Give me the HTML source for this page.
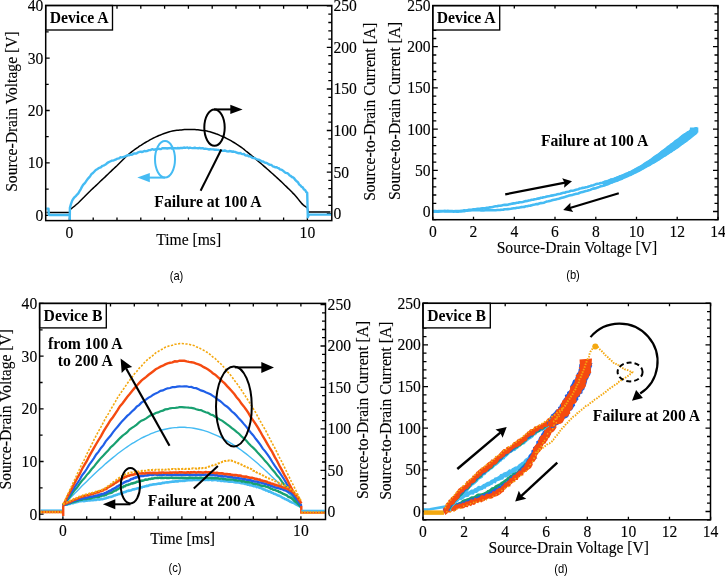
<!DOCTYPE html><html><head><meta charset="utf-8"><style>html,body{margin:0;padding:0;background:#fff;width:725px;height:577px;overflow:hidden}</style></head><body><svg width="725" height="577" viewBox="0 0 725 577" style="position:absolute;left:0;top:0;filter:blur(0.35px)">
<rect width="725" height="577" fill="#fff"/>
<path d="M69.4,220.6 L69.4,217.4 M69.4,5.5 L69.4,8.7 M93.2,220.6 L93.2,217.4 M93.2,5.5 L93.2,8.7 M117.0,220.6 L117.0,217.4 M117.0,5.5 L117.0,8.7 M140.8,220.6 L140.8,217.4 M140.8,5.5 L140.8,8.7 M164.6,220.6 L164.6,217.4 M164.6,5.5 L164.6,8.7 M188.4,220.6 L188.4,217.4 M188.4,5.5 L188.4,8.7 M212.2,220.6 L212.2,217.4 M212.2,5.5 L212.2,8.7 M236.0,220.6 L236.0,217.4 M236.0,5.5 L236.0,8.7 M259.8,220.6 L259.8,217.4 M259.8,5.5 L259.8,8.7 M283.6,220.6 L283.6,217.4 M283.6,5.5 L283.6,8.7 M307.4,220.6 L307.4,217.4 M307.4,5.5 L307.4,8.7 M45.7,215.3 L49.7,215.3 M45.7,189.1 L48.7,189.1 M45.7,162.9 L49.7,162.9 M45.7,136.7 L48.7,136.7 M45.7,110.5 L49.7,110.5 M45.7,84.3 L48.7,84.3 M45.7,58.1 L49.7,58.1 M45.7,31.9 L48.7,31.9 M45.7,5.7 L49.7,5.7 M331.8,213.6 L326.8,213.6 M331.8,205.3 L328.3,205.3 M331.8,197.0 L328.3,197.0 M331.8,188.7 L328.3,188.7 M331.8,180.4 L328.3,180.4 M331.8,172.1 L326.8,172.1 M331.8,163.7 L328.3,163.7 M331.8,155.4 L328.3,155.4 M331.8,147.1 L328.3,147.1 M331.8,138.8 L328.3,138.8 M331.8,130.5 L326.8,130.5 M331.8,122.2 L328.3,122.2 M331.8,113.9 L328.3,113.9 M331.8,105.6 L328.3,105.6 M331.8,97.3 L328.3,97.3 M331.8,89.0 L326.8,89.0 M331.8,80.6 L328.3,80.6 M331.8,72.3 L328.3,72.3 M331.8,64.0 L328.3,64.0 M331.8,55.7 L328.3,55.7 M331.8,47.4 L326.8,47.4 M331.8,39.1 L328.3,39.1 M331.8,30.8 L328.3,30.8 M331.8,22.5 L328.3,22.5 M331.8,14.2 L328.3,14.2 M331.8,5.8 L326.8,5.8" stroke="#000" stroke-width="1.3" fill="none"/>
<path d="M46.5,212.6 L69.8,212.6 L70.4,209.3 L71.9,208.2 L73.4,207.0 L74.9,205.8 L76.4,204.5 L77.9,203.2 L79.4,201.8 L80.9,200.3 L82.4,198.8 L83.9,197.3 L85.4,195.7 L86.9,194.2 L88.4,192.7 L89.9,191.3 L91.4,189.8 L92.9,188.4 L94.4,187.0 L95.9,185.6 L97.4,184.2 L98.9,182.8 L100.4,181.3 L101.9,179.9 L103.4,178.5 L104.9,177.1 L106.4,175.6 L107.9,174.2 L109.4,172.8 L110.9,171.4 L112.4,169.9 L113.9,168.5 L115.4,167.1 L116.9,165.7 L118.4,164.2 L119.9,162.7 L121.4,161.2 L122.9,159.7 L124.4,158.2 L125.9,156.8 L127.4,155.4 L128.9,154.1 L130.4,152.9 L131.9,151.7 L133.4,150.5 L134.9,149.4 L136.4,148.3 L137.9,147.3 L139.4,146.2 L140.9,145.3 L142.4,144.3 L143.9,143.4 L145.4,142.5 L146.9,141.6 L148.4,140.8 L149.9,139.9 L151.4,139.1 L152.9,138.3 L154.4,137.6 L155.9,136.9 L157.4,136.2 L158.9,135.5 L160.4,135.0 L161.9,134.4 L163.4,133.8 L164.9,133.3 L166.4,132.8 L167.9,132.3 L169.4,131.8 L170.9,131.4 L172.4,131.0 L173.9,130.7 L175.4,130.5 L176.9,130.3 L178.4,130.2 L179.9,130.0 L181.4,129.9 L182.9,129.7 L184.4,129.6 L185.9,129.5 L187.4,129.5 L188.9,129.4 L190.4,129.4 L191.9,129.4 L193.4,129.5 L194.9,129.6 L196.4,129.7 L197.9,129.8 L199.4,130.0 L200.9,130.2 L202.4,130.4 L203.9,130.6 L205.4,130.8 L206.9,131.1 L208.4,131.4 L209.9,131.8 L211.4,132.2 L212.9,132.7 L214.4,133.2 L215.9,133.8 L217.4,134.3 L218.9,134.9 L220.4,135.6 L221.9,136.2 L223.4,136.8 L224.9,137.5 L226.4,138.3 L227.9,139.1 L229.4,139.9 L230.9,140.7 L232.4,141.6 L233.9,142.5 L235.4,143.4 L236.9,144.4 L238.4,145.3 L239.9,146.3 L241.4,147.4 L242.9,148.5 L244.4,149.7 L245.9,151.0 L247.4,152.2 L248.9,153.4 L250.4,154.6 L251.9,155.9 L253.4,157.1 L254.9,158.4 L256.4,159.6 L257.9,160.9 L259.4,162.2 L260.9,163.5 L262.4,164.8 L263.9,166.1 L265.4,167.4 L266.9,168.7 L268.4,170.0 L269.9,171.4 L271.4,172.7 L272.9,174.0 L274.4,175.4 L275.9,176.7 L277.4,178.1 L278.9,179.5 L280.4,180.9 L281.9,182.3 L283.4,183.7 L284.9,185.2 L286.4,186.6 L287.9,188.1 L289.4,189.5 L290.9,191.0 L292.4,192.6 L293.9,194.1 L295.4,195.8 L296.9,197.5 L298.4,199.4 L299.9,201.3 L301.4,203.1 L302.9,204.6 L304.4,205.8 L305.9,206.8 L307.2,207.6 L308.3,212 L330.5,212" stroke="#000" stroke-width="1.5" fill="none" stroke-linejoin="round"/>
<path d="M46.3,208.6 L48.5,208.6 L48.8,215 L69.6,215 L69.8,219.8 L69.9,207.8 L71.1,203.7 L72.3,200.3 L73.5,198.5 L74.7,197.0 L75.9,196.1 L77.1,194.6 L78.3,193.4 L79.5,191.2 L80.7,189.3 L81.9,186.9 L83.1,184.9 L84.3,183.7 L85.5,182.2 L86.7,180.4 L87.9,178.8 L89.1,177.4 L90.3,175.9 L91.5,174.1 L92.7,173.3 L93.9,172.0 L95.1,170.7 L96.3,169.7 L97.5,169.0 L98.7,168.1 L99.9,167.7 L101.1,167.1 L102.3,165.9 L103.5,165.6 L104.7,165.0 L105.9,164.3 L107.1,163.1 L108.3,162.4 L109.5,161.8 L110.7,161.2 L111.9,160.6 L113.1,160.5 L114.3,160.2 L115.5,159.7 L116.7,158.9 L117.9,158.6 L119.1,158.4 L120.3,157.3 L121.5,157.4 L122.7,157.3 L123.9,156.8 L125.1,156.4 L126.3,155.8 L127.5,155.2 L128.7,155.4 L129.9,154.7 L131.1,154.8 L132.3,154.6 L133.5,153.7 L134.7,153.4 L135.9,153.6 L137.1,153.1 L138.3,152.3 L139.5,151.9 L140.7,151.6 L141.9,152.0 L143.1,151.7 L144.3,150.9 L145.5,151.2 L146.7,151.1 L147.9,150.6 L149.1,150.1 L150.3,150.1 L151.5,149.5 L152.7,149.2 L153.9,149.8 L155.1,149.4 L156.3,149.1 L157.5,149.3 L158.7,148.7 L159.9,149.1 L161.1,149.0 L162.3,148.3 L163.5,148.3 L164.7,148.3 L165.9,148.2 L167.1,148.5 L168.3,148.1 L169.5,148.2 L170.7,147.9 L171.9,148.6 L173.1,148.1 L174.3,148.1 L175.5,148.2 L176.7,148.4 L177.9,148.0 L179.1,148.4 L180.3,148.0 L181.5,148.0 L182.7,148.0 L183.9,147.5 L185.1,147.9 L186.3,147.6 L187.5,147.5 L188.7,148.2 L189.9,147.6 L191.1,147.9 L192.3,148.1 L193.5,148.0 L194.7,147.8 L195.9,148.0 L197.1,148.1 L198.3,148.4 L199.5,147.9 L200.7,148.4 L201.9,148.2 L203.1,148.3 L204.3,148.9 L205.5,148.7 L206.7,148.9 L207.9,149.2 L209.1,149.5 L210.3,149.1 L211.5,149.4 L212.7,149.4 L213.9,149.5 L215.1,149.8 L216.3,149.7 L217.5,149.9 L218.7,150.0 L219.9,150.5 L221.1,150.5 L222.3,150.7 L223.5,150.9 L224.7,150.5 L225.9,150.9 L227.1,151.4 L228.3,151.5 L229.5,151.0 L230.7,151.2 L231.9,151.7 L233.1,151.5 L234.3,151.9 L235.5,151.9 L236.7,152.7 L237.9,153.0 L239.1,153.4 L240.3,153.0 L241.5,153.8 L242.7,154.1 L243.9,154.0 L245.1,155.1 L246.3,155.6 L247.5,155.3 L248.7,156.4 L249.9,156.3 L251.1,156.9 L252.3,157.8 L253.5,158.1 L254.7,158.0 L255.9,158.7 L257.1,159.3 L258.3,159.6 L259.5,160.0 L260.7,160.6 L261.9,161.5 L263.1,161.4 L264.3,162.4 L265.5,162.8 L266.7,162.9 L267.9,163.7 L269.1,164.5 L270.3,164.9 L271.5,165.0 L272.7,166.3 L273.9,166.6 L275.1,167.3 L276.3,167.1 L277.5,167.8 L278.7,168.2 L279.9,169.4 L281.1,169.6 L282.3,170.1 L283.5,171.1 L284.7,172.2 L285.9,172.9 L287.1,173.1 L288.3,173.8 L289.5,175.4 L290.7,175.9 L291.9,177.0 L293.1,177.4 L294.3,178.5 L295.5,180.2 L296.7,181.3 L297.9,182.2 L299.1,184.3 L300.3,185.3 L301.5,186.7 L302.7,187.4 L303.9,189.4 L305.1,190.0 L306.3,192.1 L307.2,192.8 L307.8,217.4 L309,214.6 L331,214.6" stroke="#45bbf3" stroke-width="2.4" fill="none" stroke-linejoin="round"/>
<ellipse cx="165" cy="159.3" rx="10" ry="18.2" fill="none" stroke="#45bbf3" stroke-width="2"/>
<path d="M165,177.6 L148,177.6" stroke="#45bbf3" stroke-width="2" fill="none"/>
<path d="M137.3,177.6 L149.8,172.9 L149.8,182.3 Z" fill="#45bbf3"/>
<ellipse cx="214.5" cy="127.6" rx="10.2" ry="18.2" fill="none" stroke="#000" stroke-width="2"/>
<path d="M214,109.4 L232,109.4" stroke="#000" stroke-width="2" fill="none"/>
<path d="M242.6,109.4 L230.3,104.8 L230.3,114 Z" fill="#000"/>
<path d="M200.6,190.7 L221.3,149.5" stroke="#000" stroke-width="2" fill="none"/>
<text transform="translate(208.0,206.5) scale(1,1.0)" font-family="Liberation Serif" font-size="15.7" font-weight="bold" text-anchor="middle" >Failure at 100 A</text>
<rect x="45.7" y="5.5" width="66.8" height="24.5" fill="#fff" stroke="#000" stroke-width="1.35"/>
<text transform="translate(79.1,23.0) scale(1,1.0)" font-family="Liberation Serif" font-size="15.7" font-weight="bold" text-anchor="middle" >Device A</text>
<rect x="45.7" y="5.5" width="286.1" height="215.1" fill="none" stroke="#000" stroke-width="1.5"/>
<text transform="translate(43.3,220.7) scale(1,1.07)" font-family="Liberation Serif" font-size="15.6" stroke="#000" stroke-width="0.12" text-anchor="end" >0</text>
<text transform="translate(43.3,168.3) scale(1,1.07)" font-family="Liberation Serif" font-size="15.6" stroke="#000" stroke-width="0.12" text-anchor="end" >10</text>
<text transform="translate(43.3,115.9) scale(1,1.07)" font-family="Liberation Serif" font-size="15.6" stroke="#000" stroke-width="0.12" text-anchor="end" >20</text>
<text transform="translate(43.3,63.5) scale(1,1.07)" font-family="Liberation Serif" font-size="15.6" stroke="#000" stroke-width="0.12" text-anchor="end" >30</text>
<text transform="translate(43.3,11.1) scale(1,1.07)" font-family="Liberation Serif" font-size="15.6" stroke="#000" stroke-width="0.12" text-anchor="end" >40</text>
<text transform="translate(333.5,219.0) scale(1,1.07)" font-family="Liberation Serif" font-size="15.6" stroke="#000" stroke-width="0.12" text-anchor="start" >0</text>
<text transform="translate(333.5,177.5) scale(1,1.07)" font-family="Liberation Serif" font-size="15.6" stroke="#000" stroke-width="0.12" text-anchor="start" >50</text>
<text transform="translate(333.5,135.9) scale(1,1.07)" font-family="Liberation Serif" font-size="15.6" stroke="#000" stroke-width="0.12" text-anchor="start" >100</text>
<text transform="translate(333.5,94.4) scale(1,1.07)" font-family="Liberation Serif" font-size="15.6" stroke="#000" stroke-width="0.12" text-anchor="start" >150</text>
<text transform="translate(333.5,52.8) scale(1,1.07)" font-family="Liberation Serif" font-size="15.6" stroke="#000" stroke-width="0.12" text-anchor="start" >200</text>
<text transform="translate(333.5,11.2) scale(1,1.07)" font-family="Liberation Serif" font-size="15.6" stroke="#000" stroke-width="0.12" text-anchor="start" >250</text>
<text transform="translate(69.4,238.0) scale(1,1.07)" font-family="Liberation Serif" font-size="15.6" stroke="#000" stroke-width="0.12" text-anchor="middle" >0</text>
<text transform="translate(307.4,238.0) scale(1,1.07)" font-family="Liberation Serif" font-size="15.6" stroke="#000" stroke-width="0.12" text-anchor="middle" >10</text>
<text transform="translate(188.7,244.8) scale(1,1.07)" font-family="Liberation Serif" font-size="15.6" stroke="#000" stroke-width="0.12" text-anchor="middle" >Time [ms]</text>
<text transform="translate(17.0,111.6) rotate(-90) scale(1,1.07)" font-family="Liberation Serif" font-size="15.6" stroke="#000" stroke-width="0.12" text-anchor="middle">Source-Drain Voltage [V]</text>
<text transform="translate(375.4,111.7) rotate(-90) scale(1,1.07)" font-family="Liberation Serif" font-size="15.6" stroke="#000" stroke-width="0.12" text-anchor="middle">Source-to-Drain Current [A]</text>
<text transform="translate(176.5,280.0) scale(1,1.07)" font-family="Liberation Sans" font-size="11.2" text-anchor="middle" >(a)</text>
<path d="M432.8,219.7 L432.8,216.7 M432.8,5.6 L432.8,8.6 M473.5,219.7 L473.5,216.7 M473.5,5.6 L473.5,8.6 M514.3,219.7 L514.3,216.7 M514.3,5.6 L514.3,8.6 M555.0,219.7 L555.0,216.7 M555.0,5.6 L555.0,8.6 M595.8,219.7 L595.8,216.7 M595.8,5.6 L595.8,8.6 M636.5,219.7 L636.5,216.7 M636.5,5.6 L636.5,8.6 M677.2,219.7 L677.2,216.7 M677.2,5.6 L677.2,8.6 M718.0,219.7 L718.0,216.7 M718.0,5.6 L718.0,8.6 M432.8,219.7 L436.3,219.7 M718.0,219.7 L714.5,219.7 M432.8,211.5 L437.8,211.5 M718.0,211.5 L713.0,211.5 M432.8,203.3 L436.3,203.3 M718.0,203.3 L714.5,203.3 M432.8,195.0 L436.3,195.0 M718.0,195.0 L714.5,195.0 M432.8,186.8 L436.3,186.8 M718.0,186.8 L714.5,186.8 M432.8,178.5 L436.3,178.5 M718.0,178.5 L714.5,178.5 M432.8,170.3 L437.8,170.3 M718.0,170.3 L713.0,170.3 M432.8,162.1 L436.3,162.1 M718.0,162.1 L714.5,162.1 M432.8,153.8 L436.3,153.8 M718.0,153.8 L714.5,153.8 M432.8,145.6 L436.3,145.6 M718.0,145.6 L714.5,145.6 M432.8,137.4 L436.3,137.4 M718.0,137.4 L714.5,137.4 M432.8,129.1 L437.8,129.1 M718.0,129.1 L713.0,129.1 M432.8,120.9 L436.3,120.9 M718.0,120.9 L714.5,120.9 M432.8,112.6 L436.3,112.6 M718.0,112.6 L714.5,112.6 M432.8,104.4 L436.3,104.4 M718.0,104.4 L714.5,104.4 M432.8,96.2 L436.3,96.2 M718.0,96.2 L714.5,96.2 M432.8,87.9 L437.8,87.9 M718.0,87.9 L713.0,87.9 M432.8,79.7 L436.3,79.7 M718.0,79.7 L714.5,79.7 M432.8,71.5 L436.3,71.5 M718.0,71.5 L714.5,71.5 M432.8,63.2 L436.3,63.2 M718.0,63.2 L714.5,63.2 M432.8,55.0 L436.3,55.0 M718.0,55.0 L714.5,55.0 M432.8,46.7 L437.8,46.7 M718.0,46.7 L713.0,46.7 M432.8,38.5 L436.3,38.5 M718.0,38.5 L714.5,38.5 M432.8,30.3 L436.3,30.3 M718.0,30.3 L714.5,30.3 M432.8,22.0 L436.3,22.0 M718.0,22.0 L714.5,22.0 M432.8,13.8 L436.3,13.8 M718.0,13.8 L714.5,13.8 M432.8,5.6 L437.8,5.6 M718.0,5.6 L713.0,5.6" stroke="#000" stroke-width="1.3" fill="none"/>
<path d="M432.8,211.1 L434.3,211.0 L435.8,211.1 L437.3,211.3 L438.8,211.0 L440.3,211.0 L441.8,211.1 L443.3,211.0 L444.8,210.9 L446.3,211.0 L447.8,210.9 L449.3,211.0 L450.8,211.0 L452.3,211.0 L453.8,211.2 L455.3,211.0 L456.8,211.1 L458.3,211.0 L459.8,211.0 L461.3,210.7 L462.8,210.6 L464.3,210.4 L465.8,210.5 L467.3,210.2 L468.8,209.9 L470.3,209.8 L471.8,209.8 L473.3,209.3 L474.8,209.4 L476.3,209.1 L477.8,208.9 L479.3,208.9 L480.8,208.5 L482.3,208.4 L483.8,208.3 L485.3,208.2 L486.8,207.7 L488.3,207.7 L489.8,207.4 L491.3,207.2 L492.8,206.9 L494.3,206.6 L495.8,206.3 L497.3,206.1 L498.8,205.8 L500.3,205.8 L501.8,205.4 L503.3,205.1 L504.8,204.8 L506.3,204.9 L507.8,204.7 L509.3,204.3 L510.8,203.9 L512.3,203.6 L513.8,203.4 L515.3,203.2 L516.8,202.8 L518.3,202.6 L519.8,202.2 L521.3,202.2 L522.8,201.9 L524.3,201.5 L525.8,201.1 L527.3,201.0 L528.8,200.5 L530.3,200.2 L531.8,199.7 L533.3,199.6 L534.8,199.3 L536.3,199.0 L537.8,198.6 L539.3,198.4 L540.8,197.8 L542.3,197.6 L543.8,197.2 L545.3,197.0 L546.8,196.5 L548.3,196.2 L549.8,196.0 L551.3,195.6 L552.8,195.4 L554.3,195.0 L555.8,194.7 L557.3,194.3 L558.8,194.0 L560.3,193.7 L561.8,193.2 L563.3,192.8 L564.8,192.7 L566.3,192.0 L567.8,191.8 L569.3,191.4 L570.8,190.8 L572.3,190.8 L573.8,190.4 L575.3,189.9 L576.8,189.6 L578.3,189.2 L579.8,188.6 L581.3,188.3 L582.8,187.9 L584.3,187.7 L585.8,187.3 L587.3,186.9 L588.8,186.4 L590.3,186.1 L591.8,185.6 L593.3,185.2 L594.8,184.6 L596.3,184.1 L597.8,183.7 L599.3,183.4 L600.8,182.9 L602.3,182.7 L603.8,182.2 L605.3,181.7 L606.8,181.3 L608.3,180.8 L609.8,180.2 L611.3,179.5 L612.8,179.3 L614.3,178.8 L615.8,178.1 L617.3,177.6 L618.8,177.1 L620.3,176.3 L621.8,175.9 L623.3,175.1 L624.8,174.4 L626.3,173.8 L627.8,173.3 L629.3,172.4 L630.8,171.9 L632.3,171.2 L633.8,170.3 L635.3,169.5 L636.8,168.7 L638.3,167.9 L639.8,167.1 L641.3,166.2 L642.8,165.3 L644.3,164.1 L645.8,163.2 L647.3,162.2 L648.8,161.4 L650.3,160.2 L651.8,159.3 L653.3,158.0 L654.8,156.9 L656.3,155.9 L657.8,155.0 L659.3,153.9 L660.8,152.7 L662.3,151.5 L663.8,150.4 L665.3,149.2 L666.8,148.1 L668.3,146.8 L669.8,145.9 L671.3,144.5 L672.8,143.7 L674.3,142.5 L675.8,141.0 L677.3,140.0 L678.8,139.0 L680.3,137.9 L681.8,136.6 L683.3,135.4 L684.8,134.4 L686.3,133.6 L687.8,132.4 L689.3,131.6 L690.8,130.6 L692.3,130.0 L693.8,129.5 L695.3,128.5 L696.8,128.3" stroke="#45bbf3" stroke-width="2.6" fill="none"/>
<path d="M432.8,211.5 L434.3,211.7 L435.8,211.6 L437.3,211.4 L438.8,211.7 L440.3,211.5 L441.8,211.3 L443.3,211.3 L444.8,211.5 L446.3,211.5 L447.8,211.4 L449.3,211.4 L450.8,211.4 L452.3,211.4 L453.8,211.6 L455.3,211.3 L456.8,211.6 L458.3,211.6 L459.8,211.3 L461.3,211.5 L462.8,211.2 L464.3,211.1 L465.8,210.7 L467.3,210.6 L468.8,210.4 L470.3,210.5 L471.8,210.2 L473.3,210.1 L474.8,210.2 L476.3,210.1 L477.8,210.1 L479.3,210.1 L480.8,210.5 L482.3,210.3 L483.8,210.5 L485.3,210.2 L486.8,210.2 L488.3,210.3 L489.8,210.1 L491.3,210.2 L492.8,210.3 L494.3,210.3 L495.8,210.2 L497.3,210.0 L498.8,210.0 L500.3,209.9 L501.8,209.7 L503.3,209.6 L504.8,209.2 L506.3,209.3 L507.8,209.1 L509.3,209.0 L510.8,208.8 L512.3,208.5 L513.8,208.2 L515.3,208.3 L516.8,207.8 L518.3,207.7 L519.8,207.4 L521.3,207.1 L522.8,207.0 L524.3,206.9 L525.8,206.3 L527.3,206.2 L528.8,205.8 L530.3,205.6 L531.8,205.2 L533.3,204.8 L534.8,204.5 L536.3,204.1 L537.8,204.1 L539.3,203.6 L540.8,203.1 L542.3,203.0 L543.8,202.7 L545.3,202.1 L546.8,201.6 L548.3,201.3 L549.8,200.9 L551.3,200.6 L552.8,200.1 L554.3,199.7 L555.8,199.4 L557.3,199.1 L558.8,198.8 L560.3,198.3 L561.8,197.8 L563.3,197.4 L564.8,197.0 L566.3,196.5 L567.8,196.1 L569.3,195.6 L570.8,195.3 L572.3,195.1 L573.8,194.4 L575.3,194.1 L576.8,193.7 L578.3,193.4 L579.8,192.7 L581.3,192.3 L582.8,191.9 L584.3,191.5 L585.8,191.1 L587.3,190.8 L588.8,190.3 L590.3,189.9 L591.8,189.1 L593.3,188.6 L594.8,188.4 L596.3,188.0 L597.8,187.4 L599.3,186.9 L600.8,186.2 L602.3,185.9 L603.8,185.6 L605.3,185.0 L606.8,184.5 L608.3,184.0 L609.8,183.2 L611.3,182.6 L612.8,182.0 L614.3,181.6 L615.8,181.1 L617.3,180.6 L618.8,179.9 L620.3,179.3 L621.8,178.7 L623.3,177.9 L624.8,177.3 L626.3,176.5 L627.8,176.1 L629.3,175.2 L630.8,174.8 L632.3,173.9 L633.8,173.1 L635.3,172.3 L636.8,171.6 L638.3,171.0 L639.8,170.2 L641.3,169.2 L642.8,168.4 L644.3,167.7 L645.8,166.9 L647.3,166.0 L648.8,165.1 L650.3,164.4 L651.8,163.3 L653.3,162.5 L654.8,161.7 L656.3,161.0 L657.8,159.9 L659.3,159.1 L660.8,158.0 L662.3,157.0 L663.8,156.0 L665.3,155.4 L666.8,154.3 L668.3,153.2 L669.8,152.1 L671.3,151.3 L672.8,150.3 L674.3,149.2 L675.8,148.1 L677.3,147.3 L678.8,146.3 L680.3,145.0 L681.8,143.8 L683.3,142.9 L684.8,141.8 L686.3,140.8 L687.8,139.4 L689.3,138.5 L690.8,137.3 L692.3,136.0 L693.8,134.7 L695.3,133.7 L696.8,132.2" stroke="#45bbf3" stroke-width="2.6" fill="none"/>
<path d="M603.0,181.5 L604.0,180.8 L605.0,180.4 L606.0,180.6 L607.0,179.9 L608.0,180.1 L609.0,179.4 L610.0,178.8 L611.0,178.5 L612.0,178.3 L613.0,178.2 L614.0,178.1 L615.0,177.1 L616.0,176.9 L617.0,176.4 L618.0,176.6 L619.0,175.6 L620.0,175.1 L621.0,174.7 L622.0,174.6 L623.0,174.5 L624.0,174.1 L625.0,173.6 L626.0,173.3 L627.0,172.8 L628.0,171.9 L629.0,171.3 L630.0,171.4 L631.0,170.8 L632.0,169.7 L633.0,169.7 L634.0,169.0 L635.0,168.5 L636.0,167.9 L637.0,167.2 L638.0,166.5 L639.0,166.2 L640.0,165.7 L641.0,165.6 L642.0,164.3 L643.0,164.3 L644.0,163.1 L645.0,162.6 L646.0,162.3 L647.0,161.7 L648.0,160.7 L649.0,159.7 L650.0,159.4 L651.0,158.6 L652.0,158.3 L653.0,157.0 L654.0,156.5 L655.0,156.2 L656.0,154.8 L657.0,154.3 L658.0,153.9 L659.0,153.1 L660.0,151.8 L661.0,151.1 L662.0,150.3 L663.0,150.2 L664.0,149.0 L665.0,148.6 L666.0,147.9 L667.0,146.7 L668.0,145.9 L669.0,145.7 L670.0,144.6 L671.0,143.6 L672.0,143.2 L673.0,142.1 L674.0,141.3 L675.0,140.3 L676.0,140.1 L677.0,139.5 L678.0,138.5 L679.0,138.0 L680.0,136.5 L681.0,135.9 L682.0,135.3 L683.0,135.0 L684.0,134.3 L685.0,133.1 L686.0,132.4 L687.0,131.9 L688.0,131.3 L689.0,131.0 L690.0,129.8 L691.0,129.8 L692.0,129.2 L693.0,128.8 L694.0,128.3 L695.0,127.8 L696.0,127.2 L697.0,126.9 L697.3,126.8 L697.3,133.2 L697.0,132.9 L696.0,133.8 L695.0,135.1 L694.0,135.5 L693.0,136.2 L692.0,137.0 L691.0,138.2 L690.0,138.8 L689.0,140.1 L688.0,140.8 L687.0,141.7 L686.0,141.8 L685.0,142.4 L684.0,143.2 L683.0,144.2 L682.0,145.1 L681.0,145.6 L680.0,146.2 L679.0,147.0 L678.0,147.9 L677.0,148.6 L676.0,149.4 L675.0,150.2 L674.0,150.7 L673.0,150.9 L672.0,152.2 L671.0,152.4 L670.0,153.3 L669.0,153.8 L668.0,154.7 L667.0,154.9 L666.0,155.6 L665.0,156.3 L664.0,156.8 L663.0,158.1 L662.0,158.4 L661.0,158.9 L660.0,159.5 L659.0,160.6 L658.0,160.9 L657.0,161.3 L656.0,162.3 L655.0,162.8 L654.0,163.7 L653.0,163.5 L652.0,164.4 L651.0,165.3 L650.0,165.9 L649.0,166.5 L648.0,166.4 L647.0,167.2 L646.0,167.6 L645.0,168.2 L644.0,169.4 L643.0,169.6 L642.0,170.4 L641.0,170.5 L640.0,171.4 L639.0,171.6 L638.0,172.0 L637.0,172.9 L636.0,173.5 L635.0,173.4 L634.0,174.2 L633.0,174.7 L632.0,174.9 L631.0,175.5 L630.0,175.8 L629.0,176.3 L628.0,176.8 L627.0,177.5 L626.0,178.0 L625.0,178.1 L624.0,178.4 L623.0,179.1 L622.0,179.8 L621.0,179.8 L620.0,180.3 L619.0,180.6 L618.0,181.5 L617.0,181.7 L616.0,181.7 L615.0,182.1 L614.0,182.7 L613.0,183.2 L612.0,183.7 L611.0,183.6 L610.0,184.0 L609.0,184.8 L608.0,185.0 L607.0,185.2 L606.0,185.6 L605.0,186.5 L604.0,186.3 L603.0,186.8 Z" fill="#45bbf3"/>
<path d="M689.5,131 L690,127.6 L698.3,127.6 L698.3,132.5 L692,134 Z" fill="#45bbf3"/>
<path d="M505.2,194.4 L565.1,182.6" stroke="#000" stroke-width="2.2" fill="none"/>
<path d="M572.0,181.2 L564.1,187.7 L564.6,182.7 L562.2,178.2 Z" fill="#000"/>
<path d="M618.8,193.2 L569.9,208.0" stroke="#000" stroke-width="2.2" fill="none"/>
<path d="M563.2,210.0 L570.4,202.8 L570.4,207.8 L573.2,212.0 Z" fill="#000"/>
<text transform="translate(594.6,146.3) scale(1,1.0)" font-family="Liberation Serif" font-size="15.7" font-weight="bold" text-anchor="middle" >Failure at 100 A</text>
<rect x="432.8" y="5.6" width="66.9" height="24.4" fill="#fff" stroke="#000" stroke-width="1.35"/>
<text transform="translate(466.2,23.1) scale(1,1.0)" font-family="Liberation Serif" font-size="15.7" font-weight="bold" text-anchor="middle" >Device A</text>
<rect x="432.8" y="5.6" width="285.2" height="214.1" fill="none" stroke="#000" stroke-width="1.5"/>
<text transform="translate(430.6,216.9) scale(1,1.07)" font-family="Liberation Serif" font-size="15.6" stroke="#000" stroke-width="0.12" text-anchor="end" >0</text>
<text transform="translate(430.6,175.7) scale(1,1.07)" font-family="Liberation Serif" font-size="15.6" stroke="#000" stroke-width="0.12" text-anchor="end" >50</text>
<text transform="translate(430.6,134.5) scale(1,1.07)" font-family="Liberation Serif" font-size="15.6" stroke="#000" stroke-width="0.12" text-anchor="end" >100</text>
<text transform="translate(430.6,93.3) scale(1,1.07)" font-family="Liberation Serif" font-size="15.6" stroke="#000" stroke-width="0.12" text-anchor="end" >150</text>
<text transform="translate(430.6,52.1) scale(1,1.07)" font-family="Liberation Serif" font-size="15.6" stroke="#000" stroke-width="0.12" text-anchor="end" >200</text>
<text transform="translate(430.6,11.0) scale(1,1.07)" font-family="Liberation Serif" font-size="15.6" stroke="#000" stroke-width="0.12" text-anchor="end" >250</text>
<text transform="translate(432.8,236.8) scale(1,1.07)" font-family="Liberation Serif" font-size="15.6" stroke="#000" stroke-width="0.12" text-anchor="middle" >0</text>
<text transform="translate(473.5,236.8) scale(1,1.07)" font-family="Liberation Serif" font-size="15.6" stroke="#000" stroke-width="0.12" text-anchor="middle" >2</text>
<text transform="translate(514.3,236.8) scale(1,1.07)" font-family="Liberation Serif" font-size="15.6" stroke="#000" stroke-width="0.12" text-anchor="middle" >4</text>
<text transform="translate(555.0,236.8) scale(1,1.07)" font-family="Liberation Serif" font-size="15.6" stroke="#000" stroke-width="0.12" text-anchor="middle" >6</text>
<text transform="translate(595.8,236.8) scale(1,1.07)" font-family="Liberation Serif" font-size="15.6" stroke="#000" stroke-width="0.12" text-anchor="middle" >8</text>
<text transform="translate(636.5,236.8) scale(1,1.07)" font-family="Liberation Serif" font-size="15.6" stroke="#000" stroke-width="0.12" text-anchor="middle" >10</text>
<text transform="translate(677.2,236.8) scale(1,1.07)" font-family="Liberation Serif" font-size="15.6" stroke="#000" stroke-width="0.12" text-anchor="middle" >12</text>
<text transform="translate(718.0,236.8) scale(1,1.07)" font-family="Liberation Serif" font-size="15.6" stroke="#000" stroke-width="0.12" text-anchor="middle" >14</text>
<text transform="translate(576.9,253.1) scale(1,1.07)" font-family="Liberation Serif" font-size="15.6" stroke="#000" stroke-width="0.12" text-anchor="middle" >Source-Drain Voltage [V]</text>
<text transform="translate(400.2,110.9) rotate(-90) scale(1,1.07)" font-family="Liberation Serif" font-size="15.6" stroke="#000" stroke-width="0.12" text-anchor="middle">Source-to-Drain Current [A]</text>
<text transform="translate(573.0,278.5) scale(1,1.07)" font-family="Liberation Sans" font-size="11.2" text-anchor="middle" >(b)</text>
<path d="M62.9,519.5 L62.9,516.3 M62.9,303.4 L62.9,306.6 M86.7,519.5 L86.7,516.3 M86.7,303.4 L86.7,306.6 M110.5,519.5 L110.5,516.3 M110.5,303.4 L110.5,306.6 M134.3,519.5 L134.3,516.3 M134.3,303.4 L134.3,306.6 M158.1,519.5 L158.1,516.3 M158.1,303.4 L158.1,306.6 M181.9,519.5 L181.9,516.3 M181.9,303.4 L181.9,306.6 M205.7,519.5 L205.7,516.3 M205.7,303.4 L205.7,306.6 M229.5,519.5 L229.5,516.3 M229.5,303.4 L229.5,306.6 M253.3,519.5 L253.3,516.3 M253.3,303.4 L253.3,306.6 M277.1,519.5 L277.1,516.3 M277.1,303.4 L277.1,306.6 M300.9,519.5 L300.9,516.3 M300.9,303.4 L300.9,306.6 M39.6,514.2 L43.6,514.2 M39.6,487.9 L42.6,487.9 M39.6,461.5 L43.6,461.5 M39.6,435.2 L42.6,435.2 M39.6,408.8 L43.6,408.8 M39.6,382.5 L42.6,382.5 M39.6,356.1 L43.6,356.1 M39.6,329.8 L42.6,329.8 M39.6,303.4 L43.6,303.4 M325.5,511.7 L320.5,511.7 M325.5,503.4 L322.0,503.4 M325.5,495.1 L322.0,495.1 M325.5,486.8 L322.0,486.8 M325.5,478.6 L322.0,478.6 M325.5,470.3 L320.5,470.3 M325.5,462.0 L322.0,462.0 M325.5,453.7 L322.0,453.7 M325.5,445.4 L322.0,445.4 M325.5,437.1 L322.0,437.1 M325.5,428.9 L320.5,428.9 M325.5,420.6 L322.0,420.6 M325.5,412.3 L322.0,412.3 M325.5,404.0 L322.0,404.0 M325.5,395.7 L322.0,395.7 M325.5,387.4 L320.5,387.4 M325.5,379.2 L322.0,379.2 M325.5,370.9 L322.0,370.9 M325.5,362.6 L322.0,362.6 M325.5,354.3 L322.0,354.3 M325.5,346.0 L320.5,346.0 M325.5,337.7 L322.0,337.7 M325.5,329.5 L322.0,329.5 M325.5,321.2 L322.0,321.2 M325.5,312.9 L322.0,312.9 M325.5,304.6 L320.5,304.6" stroke="#000" stroke-width="1.3" fill="none"/>
<path d="M62.9,505.5 L65.3,503.0 L67.7,500.6 L70.0,498.2 L72.4,495.7 L74.8,493.3 L77.2,490.9 L79.6,488.5 L81.9,486.1 L84.3,483.7 L86.7,481.4 L89.1,479.0 L91.5,476.8 L93.8,474.5 L96.2,472.2 L98.6,470.0 L101.0,467.9 L103.4,465.7 L105.7,463.6 L108.1,461.6 L110.5,459.6 L112.9,457.6 L115.3,455.7 L117.6,453.8 L120.0,452.0 L122.4,450.2 L124.8,448.5 L127.2,446.9 L129.5,445.3 L131.9,443.7 L134.3,442.3 L136.7,440.8 L139.1,439.5 L141.4,438.2 L143.8,437.0 L146.2,435.8 L148.6,434.8 L151.0,433.7 L153.3,432.8 L155.7,431.9 L158.1,431.1 L160.5,430.4 L162.9,429.8 L165.2,429.2 L167.6,428.7 L170.0,428.3 L172.4,427.9 L174.8,427.6 L177.1,427.5 L179.5,427.3 L181.9,427.3 L184.3,427.3 L186.7,427.5 L189.0,427.6 L191.4,427.9 L193.8,428.3 L196.2,428.7 L198.6,429.2 L200.9,429.8 L203.3,430.4 L205.7,431.1 L208.1,431.9 L210.5,432.8 L212.8,433.8 L215.2,434.8 L217.6,435.9 L220.0,437.0 L222.4,438.2 L224.7,439.5 L227.1,440.9 L229.5,442.3 L231.9,443.8 L234.3,445.3 L236.6,446.9 L239.0,448.6 L241.4,450.3 L243.8,452.1 L246.2,453.9 L248.5,455.8 L250.9,457.7 L253.3,459.7 L255.7,461.7 L258.1,463.8 L260.4,465.9 L262.8,468.0 L265.2,470.2 L267.6,472.5 L270.0,474.7 L272.3,477.0 L274.7,479.3 L277.1,481.6 L279.5,484.0 L281.9,486.4 L284.2,488.8 L286.6,491.2 L289.0,493.7 L291.4,496.1 L293.8,498.6 L296.1,501.0 L298.5,503.5 L300.9,506.0" stroke="#45bbf3" stroke-width="1.4" fill="none"/>
<path d="M62.9,505.4 L65.3,502.4 L67.7,499.6 L70.0,496.6 L72.4,493.1 L74.8,489.9 L77.2,487.3 L79.6,483.9 L81.9,480.8 L84.3,478.4 L86.7,475.1 L89.1,472.5 L91.5,469.3 L93.8,466.8 L96.2,463.7 L98.6,460.7 L101.0,457.9 L103.4,455.6 L105.7,453.0 L108.1,450.6 L110.5,447.5 L112.9,445.4 L115.3,442.9 L117.6,440.6 L120.0,438.1 L122.4,435.9 L124.8,434.0 L127.2,432.2 L129.5,429.6 L131.9,427.9 L134.3,426.3 L136.7,424.6 L139.1,422.4 L141.4,420.7 L143.8,419.8 L146.2,418.4 L148.6,416.7 L151.0,415.1 L153.3,414.5 L155.7,413.0 L158.1,412.4 L160.5,411.3 L162.9,410.6 L165.2,409.4 L167.6,409.2 L170.0,408.3 L172.4,408.0 L174.8,408.0 L177.1,407.7 L179.5,407.1 L181.9,407.1 L184.3,407.3 L186.7,407.5 L189.0,407.7 L191.4,407.8 L193.8,408.3 L196.2,409.2 L198.6,409.9 L200.9,410.1 L203.3,411.3 L205.7,412.3 L208.1,412.8 L210.5,414.5 L212.8,415.1 L215.2,416.7 L217.6,418.1 L220.0,419.6 L222.4,420.9 L224.7,422.6 L227.1,424.4 L229.5,426.1 L231.9,428.1 L234.3,429.9 L236.6,431.9 L239.0,433.7 L241.4,436.3 L243.8,438.4 L246.2,440.5 L248.5,443.2 L250.9,445.7 L253.3,447.9 L255.7,450.3 L258.1,453.1 L260.4,455.4 L262.8,458.1 L265.2,461.1 L267.6,463.6 L270.0,466.7 L272.3,469.6 L274.7,472.2 L277.1,475.6 L279.5,478.1 L281.9,481.6 L284.2,484.6 L286.6,487.5 L289.0,490.2 L291.4,493.6 L293.8,496.6 L296.1,500.1 L298.5,502.6 L300.9,506.2" stroke="#18a070" stroke-width="2.2" fill="none"/>
<path d="M62.9,505.8 L65.3,501.9 L67.7,498.2 L70.0,494.1 L72.4,490.9 L74.8,486.9 L77.2,483.5 L79.6,479.8 L81.9,475.7 L84.3,472.5 L86.7,469.0 L89.1,464.9 L91.5,461.6 L93.8,458.4 L96.2,454.5 L98.6,451.7 L101.0,448.0 L103.4,445.1 L105.7,441.4 L108.1,438.5 L110.5,435.8 L112.9,432.3 L115.3,429.4 L117.6,426.7 L120.0,423.8 L122.4,420.9 L124.8,418.4 L127.2,415.9 L129.5,414.0 L131.9,411.5 L134.3,409.4 L136.7,406.7 L139.1,405.1 L141.4,402.7 L143.8,401.1 L146.2,399.4 L148.6,397.6 L151.0,396.4 L153.3,394.7 L155.7,393.4 L158.1,392.4 L160.5,390.8 L162.9,390.4 L165.2,389.3 L167.6,388.3 L170.0,388.0 L172.4,387.1 L174.8,387.2 L177.1,386.6 L179.5,386.3 L181.9,386.5 L184.3,386.3 L186.7,386.3 L189.0,387.0 L191.4,386.9 L193.8,388.0 L196.2,388.2 L198.6,389.3 L200.9,390.4 L203.3,391.1 L205.7,392.3 L208.1,393.2 L210.5,394.3 L212.8,395.8 L215.2,397.4 L217.6,399.4 L220.0,401.0 L222.4,403.0 L224.7,405.2 L227.1,406.7 L229.5,408.9 L231.9,411.5 L234.3,413.4 L236.6,415.8 L239.0,418.6 L241.4,421.0 L243.8,423.9 L246.2,426.6 L248.5,429.7 L250.9,432.7 L253.3,435.4 L255.7,438.8 L258.1,441.8 L260.4,444.8 L262.8,448.6 L265.2,451.4 L267.6,454.7 L270.0,458.1 L272.3,462.0 L274.7,465.7 L277.1,469.2 L279.5,472.5 L281.9,476.0 L284.2,479.5 L286.6,483.6 L289.0,487.3 L291.4,490.9 L293.8,494.8 L296.1,498.4 L298.5,502.5 L300.9,506.2" stroke="#1f5fe8" stroke-width="2.2" fill="none"/>
<path d="M62.9,505.3 L65.3,501.2 L67.7,496.1 L70.0,491.9 L72.4,487.3 L74.8,482.7 L77.2,478.1 L79.6,474.2 L81.9,469.2 L84.3,465.2 L86.7,461.2 L89.1,456.3 L91.5,452.1 L93.8,448.2 L96.2,444.0 L98.6,440.0 L101.0,436.1 L103.4,431.7 L105.7,427.9 L108.1,424.1 L110.5,420.2 L112.9,417.2 L115.3,413.6 L117.6,410.1 L120.0,406.2 L122.4,403.5 L124.8,400.3 L127.2,397.0 L129.5,394.3 L131.9,391.2 L134.3,388.4 L136.7,385.7 L139.1,383.2 L141.4,380.7 L143.8,378.7 L146.2,376.9 L148.6,374.8 L151.0,373.0 L153.3,371.2 L155.7,369.3 L158.1,368.0 L160.5,366.6 L162.9,365.7 L165.2,364.4 L167.6,363.3 L170.0,362.8 L172.4,362.4 L174.8,361.3 L177.1,361.5 L179.5,360.6 L181.9,360.7 L184.3,360.8 L186.7,361.4 L189.0,361.9 L191.4,362.2 L193.8,362.6 L196.2,363.7 L198.6,364.3 L200.9,365.3 L203.3,366.9 L205.7,368.1 L208.1,369.6 L210.5,371.2 L212.8,373.2 L215.2,374.7 L217.6,376.9 L220.0,379.0 L222.4,381.3 L224.7,383.4 L227.1,386.1 L229.5,388.6 L231.9,391.2 L234.3,394.0 L236.6,397.2 L239.0,399.9 L241.4,403.6 L243.8,406.4 L246.2,409.7 L248.5,413.2 L250.9,417.3 L253.3,420.6 L255.7,424.1 L258.1,427.9 L260.4,431.8 L262.8,436.2 L265.2,440.2 L267.6,444.3 L270.0,448.5 L272.3,452.2 L274.7,456.9 L277.1,461.0 L279.5,465.7 L281.9,470.1 L284.2,474.6 L286.6,478.5 L289.0,483.5 L291.4,488.1 L293.8,492.6 L296.1,496.6 L298.5,501.2 L300.9,505.7" stroke="#f54a10" stroke-width="2.4" fill="none"/>
<path d="M62.9,504.2 L65.3,499.6 L67.7,494.5 L70.0,489.4 L72.4,484.4 L74.8,479.3 L77.2,474.1 L79.6,469.0 L81.9,464.1 L84.3,459.6 L86.7,454.4 L89.1,449.7 L91.5,445.0 L93.8,440.1 L96.2,435.6 L98.6,431.1 L101.0,426.9 L103.4,422.3 L105.7,417.9 L108.1,414.1 L110.5,409.7 L112.9,405.9 L115.3,401.8 L117.6,397.6 L120.0,394.1 L122.4,390.5 L124.8,387.2 L127.2,383.6 L129.5,380.5 L131.9,377.3 L134.3,374.0 L136.7,371.5 L139.1,368.3 L141.4,366.1 L143.8,363.2 L146.2,360.8 L148.6,358.7 L151.0,357.0 L153.3,355.2 L155.7,352.8 L158.1,351.5 L160.5,350.0 L162.9,348.9 L165.2,347.3 L167.6,346.5 L170.0,345.6 L172.4,345.2 L174.8,344.3 L177.1,344.3 L179.5,343.6 L181.9,343.5 L184.3,343.9 L186.7,344.0 L189.0,344.2 L191.4,345.0 L193.8,345.4 L196.2,346.7 L198.6,347.6 L200.9,348.9 L203.3,350.1 L205.7,351.4 L208.1,353.0 L210.5,354.8 L212.8,357.0 L215.2,358.5 L217.6,361.2 L220.0,363.0 L222.4,365.6 L224.7,368.2 L227.1,371.3 L229.5,373.9 L231.9,376.8 L234.3,380.3 L236.6,383.1 L239.0,386.6 L241.4,390.0 L243.8,393.7 L246.2,397.4 L248.5,401.1 L250.9,404.8 L253.3,408.7 L255.7,412.7 L258.1,417.2 L260.4,421.3 L262.8,425.7 L265.2,429.7 L267.6,434.3 L270.0,439.0 L272.3,443.4 L274.7,447.7 L277.1,452.6 L279.5,457.6 L281.9,461.9 L284.2,466.7 L286.6,471.6 L289.0,476.7 L291.4,481.6 L293.8,486.1 L296.1,491.0 L298.5,495.9 L300.9,500.9" stroke="#f4a810" stroke-width="1.6" stroke-dasharray="2.2,1.5" fill="none"/>
<path d="M62.9,505.5 L63.9,505.0 L64.9,504.8 L65.9,504.5 L66.9,504.7 L67.9,504.3 L68.9,503.6 L69.9,503.9 L70.9,503.1 L71.9,503.0 L72.9,503.2 L73.9,502.8 L74.9,502.6 L75.9,502.2 L76.9,501.9 L77.9,501.9 L78.9,501.4 L79.9,501.3 L80.9,501.3 L81.9,500.9 L82.9,501.0 L83.9,501.1 L84.9,501.0 L85.9,500.8 L86.9,500.7 L87.9,500.5 L88.9,500.2 L89.9,500.4 L90.9,500.2 L91.9,500.3 L92.9,500.3 L93.9,500.0 L94.9,499.9 L95.9,500.0 L96.9,499.6 L97.9,499.4 L98.9,499.6 L99.9,499.5 L100.9,499.3 L101.9,499.1 L102.9,499.1 L103.9,498.8 L104.9,498.5 L105.9,498.2 L106.9,497.8 L107.9,497.7 L108.9,497.1 L109.9,497.0 L110.9,496.9 L111.9,496.6 L112.9,496.2 L113.9,495.6 L114.9,495.4 L115.9,495.1 L116.9,494.8 L117.9,494.3 L118.9,494.1 L119.9,493.9 L120.9,493.1 L121.9,493.0 L122.9,492.8 L123.9,492.2 L124.9,491.9 L125.9,491.9 L126.9,491.0 L127.9,491.0 L128.9,490.5 L129.9,490.6 L130.9,490.4 L131.9,489.9 L132.9,489.4 L133.9,489.4 L134.9,489.1 L135.9,488.9 L136.9,488.5 L137.9,488.3 L138.9,488.2 L139.9,487.7 L140.9,487.4 L141.9,487.4 L142.9,486.7 L143.9,486.8 L144.9,486.3 L145.9,486.3 L146.9,485.7 L147.9,486.0 L148.9,485.4 L149.9,485.0 L150.9,484.9 L151.9,484.8 L152.9,484.4 L153.9,484.4 L154.9,484.3 L155.9,484.3 L156.9,483.9 L157.9,483.7 L158.9,483.5 L159.9,483.6 L160.9,483.6 L161.9,483.2 L162.9,482.8 L163.9,483.0 L164.9,482.6 L165.9,482.4 L166.9,482.2 L167.9,482.4 L168.9,482.3 L169.9,482.1 L170.9,481.9 L171.9,481.8 L172.9,481.5 L173.9,481.8 L174.9,481.4 L175.9,481.4 L176.9,481.4 L177.9,481.4 L178.9,481.1 L179.9,480.9 L180.9,481.0 L181.9,480.6 L182.9,481.0 L183.9,480.6 L184.9,480.9 L185.9,480.4 L186.9,480.4 L187.9,480.3 L188.9,480.3 L189.9,480.1 L190.9,480.0 L191.9,480.3 L192.9,480.0 L193.9,479.9 L194.9,479.9 L195.9,480.0 L196.9,479.9 L197.9,480.0 L198.9,480.0 L199.9,479.8 L200.9,480.1 L201.9,480.0 L202.9,479.5 L203.9,480.0 L204.9,480.0 L205.9,480.0 L206.9,479.6 L207.9,480.0 L208.9,480.0 L209.9,479.6 L210.9,479.7 L211.9,480.3 L212.9,480.1 L213.9,480.0 L214.9,479.9 L215.9,480.0 L216.9,480.1 L217.9,480.6 L218.9,480.4 L219.9,480.3 L220.9,480.9 L221.9,480.9 L222.9,480.6 L223.9,481.1 L224.9,481.1 L225.9,481.3 L226.9,481.3 L227.9,481.5 L228.9,481.6 L229.9,481.7 L230.9,481.4 L231.9,481.8 L232.9,481.8 L233.9,482.1 L234.9,482.1 L235.9,482.5 L236.9,482.4 L237.9,482.4 L238.9,482.6 L239.9,482.7 L240.9,483.1 L241.9,483.0 L242.9,483.4 L243.9,483.4 L244.9,483.9 L245.9,484.1 L246.9,484.3 L247.9,484.7 L248.9,484.4 L249.9,485.2 L250.9,485.2 L251.9,485.5 L252.9,485.8 L253.9,486.2 L254.9,486.1 L255.9,486.4 L256.9,487.1 L257.9,486.8 L258.9,487.5 L259.9,487.9 L260.9,487.8 L261.9,488.6 L262.9,489.0 L263.9,489.5 L264.9,489.6 L265.9,490.4 L266.9,490.5 L267.9,490.9 L268.9,491.6 L269.9,491.5 L270.9,492.3 L271.9,492.7 L272.9,493.0 L273.9,493.7 L274.9,493.9 L275.9,494.4 L276.9,494.9 L277.9,495.5 L278.9,495.6 L279.9,496.2 L280.9,496.7 L281.9,497.3 L282.9,498.0 L283.9,498.1 L284.9,499.0 L285.9,499.2 L286.9,499.8 L287.9,500.2 L288.9,500.8 L289.9,501.6 L290.9,501.9 L291.9,502.5 L292.9,502.7 L293.9,503.2 L294.9,503.7 L295.9,504.4 L296.9,504.9 L297.9,505.5 L298.9,505.6 L299.9,506.5 L300.9,507.1 L301.3,507.1" stroke="#45bbf3" stroke-width="2.6" fill="none" stroke-linejoin="round"/>
<path d="M62.9,505.5 L63.9,504.9 L64.9,504.6 L65.9,504.1 L66.9,503.8 L67.9,503.9 L68.9,503.4 L69.9,503.1 L70.9,502.8 L71.9,502.5 L72.9,502.0 L73.9,501.7 L74.9,501.4 L75.9,501.2 L76.9,500.9 L77.9,500.6 L78.9,500.1 L79.9,500.1 L80.9,499.8 L81.9,499.7 L82.9,499.1 L83.9,499.0 L84.9,498.7 L85.9,499.0 L86.9,498.9 L87.9,498.6 L88.9,498.2 L89.9,498.4 L90.9,498.2 L91.9,497.9 L92.9,497.6 L93.9,497.4 L94.9,497.3 L95.9,497.1 L96.9,497.0 L97.9,496.9 L98.9,496.9 L99.9,496.1 L100.9,496.2 L101.9,495.6 L102.9,495.4 L103.9,495.5 L104.9,495.1 L105.9,494.9 L106.9,494.3 L107.9,493.6 L108.9,493.4 L109.9,493.1 L110.9,492.9 L111.9,492.5 L112.9,491.7 L113.9,491.2 L114.9,490.5 L115.9,490.4 L116.9,489.6 L117.9,489.1 L118.9,488.5 L119.9,488.0 L120.9,488.0 L121.9,487.2 L122.9,487.2 L123.9,486.3 L124.9,486.3 L125.9,485.4 L126.9,485.0 L127.9,485.0 L128.9,484.4 L129.9,484.3 L130.9,483.7 L131.9,483.3 L132.9,483.4 L133.9,483.0 L134.9,482.8 L135.9,482.4 L136.9,481.7 L137.9,481.7 L138.9,481.5 L139.9,481.1 L140.9,481.1 L141.9,480.5 L142.9,480.7 L143.9,480.3 L144.9,479.7 L145.9,479.5 L146.9,479.7 L147.9,479.6 L148.9,478.9 L149.9,478.9 L150.9,478.9 L151.9,478.4 L152.9,478.7 L153.9,478.3 L154.9,477.9 L155.9,478.0 L156.9,478.0 L157.9,477.8 L158.9,477.9 L159.9,477.6 L160.9,478.0 L161.9,477.7 L162.9,477.9 L163.9,477.9 L164.9,477.8 L165.9,477.7 L166.9,478.0 L167.9,478.1 L168.9,478.0 L169.9,477.8 L170.9,477.7 L171.9,477.5 L172.9,478.1 L173.9,477.9 L174.9,478.0 L175.9,477.7 L176.9,477.9 L177.9,478.1 L178.9,478.0 L179.9,477.9 L180.9,477.7 L181.9,477.8 L182.9,478.0 L183.9,477.7 L184.9,477.9 L185.9,477.9 L186.9,478.0 L187.9,478.0 L188.9,477.7 L189.9,477.5 L190.9,477.7 L191.9,477.8 L192.9,477.9 L193.9,478.0 L194.9,478.0 L195.9,477.5 L196.9,478.0 L197.9,478.0 L198.9,478.0 L199.9,477.8 L200.9,477.7 L201.9,478.0 L202.9,478.0 L203.9,477.9 L204.9,478.0 L205.9,477.7 L206.9,477.6 L207.9,477.9 L208.9,478.1 L209.9,477.7 L210.9,478.1 L211.9,478.3 L212.9,477.9 L213.9,478.2 L214.9,478.3 L215.9,478.2 L216.9,478.1 L217.9,478.2 L218.9,478.6 L219.9,478.7 L220.9,478.6 L221.9,478.5 L222.9,479.0 L223.9,479.1 L224.9,478.9 L225.9,479.2 L226.9,479.4 L227.9,479.5 L228.9,479.4 L229.9,479.5 L230.9,479.6 L231.9,479.5 L232.9,479.6 L233.9,479.7 L234.9,480.2 L235.9,480.1 L236.9,480.4 L237.9,480.4 L238.9,480.6 L239.9,480.6 L240.9,480.7 L241.9,481.4 L242.9,481.2 L243.9,481.2 L244.9,481.7 L245.9,482.0 L246.9,481.8 L247.9,482.3 L248.9,482.3 L249.9,482.6 L250.9,482.5 L251.9,482.7 L252.9,483.5 L253.9,483.7 L254.9,483.7 L255.9,483.9 L256.9,484.0 L257.9,484.6 L258.9,484.6 L259.9,485.2 L260.9,485.4 L261.9,485.7 L262.9,486.1 L263.9,485.9 L264.9,486.1 L265.9,486.6 L266.9,486.9 L267.9,487.1 L268.9,487.5 L269.9,488.1 L270.9,488.7 L271.9,488.8 L272.9,489.5 L273.9,489.8 L274.9,489.7 L275.9,490.4 L276.9,490.7 L277.9,491.0 L278.9,491.9 L279.9,491.9 L280.9,492.6 L281.9,493.1 L282.9,493.8 L283.9,494.1 L284.9,494.5 L285.9,495.0 L286.9,495.4 L287.9,496.5 L288.9,497.1 L289.9,497.3 L290.9,497.8 L291.9,498.6 L292.9,499.4 L293.9,500.5 L294.9,501.3 L295.9,502.1 L296.9,502.5 L297.9,503.9 L298.9,504.8 L299.9,505.8 L300.9,507.0 L301.3,507.1" stroke="#18a070" stroke-width="2.5" fill="none" stroke-linejoin="round"/>
<path d="M62.9,505.2 L63.9,504.8 L64.9,504.8 L65.9,504.4 L66.9,503.8 L67.9,503.2 L68.9,503.0 L69.9,502.7 L70.9,501.9 L71.9,501.6 L72.9,501.2 L73.9,500.7 L74.9,500.6 L75.9,500.1 L76.9,499.8 L77.9,499.4 L78.9,499.4 L79.9,498.7 L80.9,498.9 L81.9,498.3 L82.9,498.0 L83.9,498.3 L84.9,497.7 L85.9,497.9 L86.9,497.6 L87.9,497.5 L88.9,496.8 L89.9,496.8 L90.9,496.4 L91.9,496.8 L92.9,496.5 L93.9,496.2 L94.9,495.9 L95.9,495.6 L96.9,495.7 L97.9,495.3 L98.9,495.1 L99.9,494.6 L100.9,494.4 L101.9,494.0 L102.9,494.0 L103.9,493.6 L104.9,493.0 L105.9,493.0 L106.9,492.2 L107.9,491.8 L108.9,491.1 L109.9,490.7 L110.9,490.5 L111.9,489.6 L112.9,489.0 L113.9,488.6 L114.9,487.9 L115.9,487.7 L116.9,486.6 L117.9,486.5 L118.9,485.4 L119.9,485.3 L120.9,484.6 L121.9,483.7 L122.9,483.3 L123.9,482.6 L124.9,482.1 L125.9,481.6 L126.9,481.2 L127.9,481.1 L128.9,480.6 L129.9,480.2 L130.9,479.2 L131.9,478.9 L132.9,478.8 L133.9,477.9 L134.9,477.9 L135.9,477.3 L136.9,477.4 L137.9,476.5 L138.9,476.8 L139.9,476.3 L140.9,476.0 L141.9,475.8 L142.9,476.1 L143.9,475.8 L144.9,475.4 L145.9,475.4 L146.9,475.6 L147.9,475.0 L148.9,475.2 L149.9,474.8 L150.9,474.7 L151.9,475.0 L152.9,475.0 L153.9,474.6 L154.9,474.5 L155.9,474.6 L156.9,474.9 L157.9,474.8 L158.9,474.7 L159.9,474.6 L160.9,474.9 L161.9,474.9 L162.9,475.0 L163.9,474.8 L164.9,474.6 L165.9,474.5 L166.9,474.9 L167.9,474.7 L168.9,474.9 L169.9,474.5 L170.9,475.0 L171.9,474.7 L172.9,475.0 L173.9,475.0 L174.9,474.8 L175.9,474.5 L176.9,475.0 L177.9,474.8 L178.9,475.0 L179.9,474.7 L180.9,474.6 L181.9,475.0 L182.9,474.7 L183.9,474.6 L184.9,474.7 L185.9,474.9 L186.9,474.5 L187.9,474.8 L188.9,474.8 L189.9,474.8 L190.9,474.6 L191.9,474.9 L192.9,475.0 L193.9,475.0 L194.9,474.7 L195.9,474.9 L196.9,474.7 L197.9,475.0 L198.9,474.5 L199.9,475.0 L200.9,475.1 L201.9,474.8 L202.9,474.8 L203.9,474.8 L204.9,474.8 L205.9,474.5 L206.9,475.1 L207.9,474.7 L208.9,474.7 L209.9,474.7 L210.9,474.9 L211.9,475.3 L212.9,474.9 L213.9,475.0 L214.9,475.4 L215.9,475.2 L216.9,475.2 L217.9,475.7 L218.9,475.8 L219.9,475.8 L220.9,476.1 L221.9,475.8 L222.9,476.4 L223.9,476.4 L224.9,476.1 L225.9,476.3 L226.9,476.6 L227.9,476.8 L228.9,476.7 L229.9,476.8 L230.9,477.0 L231.9,477.0 L232.9,477.4 L233.9,477.7 L234.9,477.4 L235.9,477.8 L236.9,478.0 L237.9,477.8 L238.9,478.4 L239.9,478.6 L240.9,478.4 L241.9,478.6 L242.9,479.1 L243.9,479.0 L244.9,479.1 L245.9,479.6 L246.9,479.7 L247.9,479.7 L248.9,479.8 L249.9,480.0 L250.9,480.3 L251.9,480.8 L252.9,480.9 L253.9,481.2 L254.9,481.4 L255.9,481.6 L256.9,481.4 L257.9,481.9 L258.9,482.4 L259.9,482.6 L260.9,482.5 L261.9,482.9 L262.9,483.3 L263.9,483.4 L264.9,483.8 L265.9,483.8 L266.9,484.4 L267.9,484.7 L268.9,484.7 L269.9,485.1 L270.9,485.9 L271.9,486.1 L272.9,486.6 L273.9,486.7 L274.9,487.2 L275.9,487.5 L276.9,487.8 L277.9,487.6 L278.9,488.3 L279.9,488.4 L280.9,489.0 L281.9,489.0 L282.9,489.5 L283.9,490.1 L284.9,490.3 L285.9,490.5 L286.9,491.1 L287.9,491.5 L288.9,492.3 L289.9,492.4 L290.9,493.0 L291.9,493.8 L292.9,494.3 L293.9,495.6 L294.9,496.9 L295.9,497.9 L296.9,499.1 L297.9,500.6 L298.9,502.2 L299.9,503.5 L300.9,505.0 L301.3,505.9" stroke="#1f5fe8" stroke-width="2.5" fill="none" stroke-linejoin="round"/>
<path d="M62.9,505.0 L63.9,504.6 L64.9,504.1 L65.9,503.6 L66.9,503.0 L67.9,502.5 L68.9,502.3 L69.9,502.0 L70.9,501.4 L71.9,500.9 L72.9,500.5 L73.9,499.8 L74.9,499.7 L75.9,499.1 L76.9,498.7 L77.9,498.4 L78.9,497.9 L79.9,497.4 L80.9,497.0 L81.9,496.7 L82.9,496.5 L83.9,496.1 L84.9,495.9 L85.9,495.3 L86.9,495.2 L87.9,495.3 L88.9,494.6 L89.9,494.5 L90.9,494.2 L91.9,493.8 L92.9,494.0 L93.9,493.3 L94.9,493.3 L95.9,492.6 L96.9,492.3 L97.9,492.4 L98.9,491.8 L99.9,491.2 L100.9,491.1 L101.9,490.7 L102.9,490.5 L103.9,489.6 L104.9,489.2 L105.9,489.1 L106.9,488.4 L107.9,487.4 L108.9,486.9 L109.9,486.3 L110.9,485.8 L111.9,485.1 L112.9,484.6 L113.9,483.9 L114.9,483.1 L115.9,482.6 L116.9,481.9 L117.9,481.3 L118.9,480.5 L119.9,480.1 L120.9,479.4 L121.9,479.0 L122.9,478.0 L123.9,478.0 L124.9,476.9 L125.9,476.9 L126.9,476.3 L127.9,475.9 L128.9,475.8 L129.9,475.3 L130.9,475.0 L131.9,474.9 L132.9,474.8 L133.9,474.4 L134.9,474.1 L135.9,474.0 L136.9,473.8 L137.9,473.9 L138.9,473.5 L139.9,473.5 L140.9,473.5 L141.9,473.4 L142.9,473.3 L143.9,473.5 L144.9,473.5 L145.9,473.2 L146.9,473.1 L147.9,472.9 L148.9,473.0 L149.9,472.8 L150.9,473.1 L151.9,473.0 L152.9,472.7 L153.9,473.2 L154.9,472.8 L155.9,473.1 L156.9,473.1 L157.9,473.1 L158.9,472.6 L159.9,472.8 L160.9,473.0 L161.9,472.5 L162.9,472.5 L163.9,472.8 L164.9,472.7 L165.9,472.9 L166.9,472.8 L167.9,472.7 L168.9,472.9 L169.9,472.6 L170.9,472.6 L171.9,472.7 L172.9,472.5 L173.9,472.5 L174.9,472.6 L175.9,472.4 L176.9,472.8 L177.9,472.6 L178.9,472.5 L179.9,472.2 L180.9,472.4 L181.9,472.4 L182.9,472.5 L183.9,472.5 L184.9,472.6 L185.9,472.7 L186.9,472.4 L187.9,472.3 L188.9,472.4 L189.9,472.7 L190.9,472.3 L191.9,472.4 L192.9,472.5 L193.9,472.1 L194.9,472.2 L195.9,472.6 L196.9,472.5 L197.9,472.3 L198.9,472.1 L199.9,472.5 L200.9,472.4 L201.9,472.5 L202.9,472.6 L203.9,472.5 L204.9,472.3 L205.9,472.1 L206.9,472.2 L207.9,472.4 L208.9,472.4 L209.9,472.3 L210.9,472.3 L211.9,472.7 L212.9,472.7 L213.9,472.6 L214.9,473.1 L215.9,473.0 L216.9,472.7 L217.9,473.1 L218.9,473.4 L219.9,473.2 L220.9,473.5 L221.9,473.2 L222.9,473.5 L223.9,474.0 L224.9,474.0 L225.9,474.1 L226.9,474.0 L227.9,474.3 L228.9,474.4 L229.9,474.3 L230.9,474.7 L231.9,474.7 L232.9,475.1 L233.9,475.0 L234.9,475.1 L235.9,475.0 L236.9,475.2 L237.9,475.7 L238.9,475.5 L239.9,475.6 L240.9,475.8 L241.9,476.2 L242.9,476.5 L243.9,476.6 L244.9,476.9 L245.9,476.6 L246.9,476.8 L247.9,477.4 L248.9,477.3 L249.9,477.8 L250.9,477.7 L251.9,477.8 L252.9,478.1 L253.9,478.2 L254.9,478.9 L255.9,478.9 L256.9,479.0 L257.9,479.4 L258.9,479.6 L259.9,479.6 L260.9,480.4 L261.9,480.5 L262.9,481.0 L263.9,481.0 L264.9,481.4 L265.9,481.5 L266.9,481.7 L267.9,482.5 L268.9,482.8 L269.9,482.8 L270.9,483.5 L271.9,483.7 L272.9,483.8 L273.9,484.3 L274.9,484.9 L275.9,484.9 L276.9,485.5 L277.9,485.5 L278.9,485.9 L279.9,486.4 L280.9,486.5 L281.9,486.9 L282.9,487.5 L283.9,487.6 L284.9,488.1 L285.9,488.2 L286.9,488.5 L287.9,489.1 L288.9,489.4 L289.9,490.4 L290.9,490.6 L291.9,491.4 L292.9,491.9 L293.9,493.1 L294.9,494.1 L295.9,495.3 L296.9,496.4 L297.9,497.9 L298.9,499.8 L299.9,501.1 L300.9,502.6 L301.3,503.4" stroke="#f54a10" stroke-width="2.6" fill="none" stroke-linejoin="round"/>
<path d="M62.9,504.3 L63.9,503.8 L64.9,503.3 L65.9,502.6 L66.9,502.5 L67.9,501.8 L68.9,501.2 L69.9,501.0 L70.9,500.2 L71.9,499.8 L72.9,499.7 L73.9,498.8 L74.9,498.5 L75.9,498.3 L76.9,497.9 L77.9,497.1 L78.9,496.8 L79.9,496.7 L80.9,496.1 L81.9,496.1 L82.9,495.3 L83.9,495.4 L84.9,494.9 L85.9,494.4 L86.9,494.3 L87.9,493.8 L88.9,493.9 L89.9,493.3 L90.9,493.5 L91.9,493.0 L92.9,492.6 L93.9,492.2 L94.9,492.2 L95.9,491.6 L96.9,491.7 L97.9,491.0 L98.9,490.9 L99.9,490.5 L100.9,490.0 L101.9,489.9 L102.9,489.2 L103.9,488.9 L104.9,488.3 L105.9,487.6 L106.9,487.0 L107.9,486.2 L108.9,485.5 L109.9,485.2 L110.9,484.1 L111.9,483.6 L112.9,482.5 L113.9,482.0 L114.9,481.1 L115.9,480.4 L116.9,479.5 L117.9,478.6 L118.9,478.1 L119.9,477.3 L120.9,476.6 L121.9,476.3 L122.9,475.4 L123.9,475.0 L124.9,474.8 L125.9,474.2 L126.9,473.9 L127.9,473.6 L128.9,472.9 L129.9,472.8 L130.9,472.4 L131.9,472.6 L132.9,472.5 L133.9,472.1 L134.9,472.0 L135.9,471.9 L136.9,471.8 L137.9,471.4 L138.9,471.6 L139.9,471.2 L140.9,471.2 L141.9,470.8 L142.9,470.7 L143.9,471.0 L144.9,470.8 L145.9,470.7 L146.9,470.2 L147.9,470.1 L148.9,470.1 L149.9,470.0 L150.9,470.0 L151.9,470.0 L152.9,469.7 L153.9,469.8 L154.9,470.0 L155.9,469.6 L156.9,470.0 L157.9,469.8 L158.9,469.8 L159.9,469.5 L160.9,469.6 L161.9,469.7 L162.9,469.5 L163.9,469.2 L164.9,469.7 L165.9,469.6 L166.9,469.3 L167.9,469.1 L168.9,469.6 L169.9,469.4 L170.9,469.0 L171.9,469.1 L172.9,469.0 L173.9,469.4 L174.9,469.0 L175.9,469.4 L176.9,469.3 L177.9,468.8 L178.9,469.2 L179.9,468.9 L180.9,469.1 L181.9,469.1 L182.9,468.8 L183.9,468.6 L184.9,469.1 L185.9,468.8 L186.9,469.0 L187.9,468.9 L188.9,468.8 L189.9,468.9 L190.9,468.7 L191.9,468.6 L192.9,468.3 L193.9,468.7 L194.9,468.5 L195.9,468.5 L196.9,468.7 L197.9,468.1 L198.9,468.5 L199.9,468.0 L200.9,468.3 L201.9,468.3 L202.9,467.9 L203.9,468.0 L204.9,468.1 L205.9,467.8 L206.9,467.5 L207.9,467.0 L208.9,466.6 L209.9,466.4 L210.9,466.1 L211.9,465.6 L212.9,465.3 L213.9,464.8 L214.9,464.9 L215.9,464.5 L216.9,463.9 L217.9,463.5 L218.9,463.3 L219.9,462.8 L220.9,462.7 L221.9,462.0 L222.9,461.6 L223.9,461.6 L224.9,460.9 L225.9,460.9 L226.9,460.5 L227.9,460.7 L228.9,460.4 L229.9,460.6 L230.9,460.3 L231.9,460.8 L232.9,461.1 L233.9,461.3 L234.9,461.9 L235.9,462.4 L236.9,462.4 L237.9,463.0 L238.9,463.5 L239.9,463.9 L240.9,464.3 L241.9,464.9 L242.9,465.2 L243.9,466.0 L244.9,466.3 L245.9,466.5 L246.9,467.1 L247.9,467.7 L248.9,468.1 L249.9,468.5 L250.9,468.9 L251.9,469.4 L252.9,470.5 L253.9,470.9 L254.9,471.0 L255.9,471.9 L256.9,472.6 L257.9,472.9 L258.9,473.1 L259.9,473.9 L260.9,474.4 L261.9,474.8 L262.9,475.5 L263.9,475.7 L264.9,476.7 L265.9,477.1 L266.9,477.6 L267.9,478.2 L268.9,478.5 L269.9,478.8 L270.9,479.2 L271.9,479.6 L272.9,479.9 L273.9,480.8 L274.9,481.3 L275.9,481.3 L276.9,481.7 L277.9,482.4 L278.9,483.0 L279.9,483.5 L280.9,483.5 L281.9,484.3 L282.9,484.8 L283.9,485.3 L284.9,485.5 L285.9,486.0 L286.9,486.9 L287.9,487.2 L288.9,487.9 L289.9,488.7 L290.9,489.3 L291.9,490.3 L292.9,490.8 L293.9,491.6 L294.9,493.0 L295.9,494.1 L296.9,495.4 L297.9,496.6 L298.9,498.0 L299.9,499.3 L300.9,500.4 L301.3,500.9" stroke="#f4a810" stroke-width="2.0" fill="none" stroke-dasharray="2.2,1.3" stroke-linejoin="round"/>
<path d="M40.5,510.4 L62.9,510.4" stroke="#45bbf3" stroke-width="2" fill="none"/>
<path d="M40.5,512 L62.9,512 L63.2,516 L63.2,505.5" stroke="#f54a10" stroke-width="2.4" fill="none"/>
<path d="M40.5,512 L62.9,512" stroke="#f4a810" stroke-width="2.6" stroke-dasharray="1.6,1.2" fill="none"/>
<path d="M301.3,506 L301.3,512.5 L324.8,512.5" stroke="#f54a10" stroke-width="2.4" fill="none"/>
<path d="M301.3,510.7 L324.8,510.7" stroke="#45bbf3" stroke-width="2" fill="none"/>
<path d="M301.3,512.5 L324.8,512.5" stroke="#f4a810" stroke-width="2.6" stroke-dasharray="1.6,1.2" fill="none"/>
<ellipse cx="233.9" cy="406.4" rx="17.9" ry="40" fill="none" stroke="#000" stroke-width="2"/>
<path d="M234.8,367.4 L262,367.4" stroke="#000" stroke-width="2" fill="none"/>
<path d="M274,367.4 L261.3,361.9 L261.3,372.9 Z" fill="#000"/>
<ellipse cx="130.4" cy="485.7" rx="9.6" ry="17.7" fill="none" stroke="#000" stroke-width="2"/>
<path d="M130.4,504.3 L113,504.3" stroke="#000" stroke-width="2" fill="none"/>
<path d="M102.9,504.3 L115.3,499.3 L115.3,509.3 Z" fill="#000"/>
<path d="M169.5,445.8 L126.0,368.2" stroke="#000" stroke-width="2.2" fill="none"/>
<path d="M120.6,358.6 L132.2,367.0 L126.2,368.6 L121.7,372.9 Z" fill="#000"/>
<path d="M193.8,488.4 L217.9,466" stroke="#000" stroke-width="2" fill="none"/>
<text transform="translate(201.5,505.5) scale(1,1.0)" font-family="Liberation Serif" font-size="15.7" font-weight="bold" text-anchor="middle" >Failure at 200 A</text>
<text transform="translate(85.3,348.7) scale(1,1.0)" font-family="Liberation Serif" font-size="15.7" font-weight="bold" text-anchor="middle" >from 100 A</text>
<text transform="translate(85.3,366.4) scale(1,1.0)" font-family="Liberation Serif" font-size="15.7" font-weight="bold" text-anchor="middle" >to 200 A</text>
<rect x="39.6" y="303.4" width="66.7" height="24.5" fill="#fff" stroke="#000" stroke-width="1.35"/>
<text transform="translate(73.0,320.9) scale(1,1.0)" font-family="Liberation Serif" font-size="15.7" font-weight="bold" text-anchor="middle" >Device B</text>
<rect x="39.6" y="303.4" width="285.9" height="216.1" fill="none" stroke="#000" stroke-width="1.5"/>
<text transform="translate(37.2,519.6) scale(1,1.07)" font-family="Liberation Serif" font-size="15.6" stroke="#000" stroke-width="0.12" text-anchor="end" >0</text>
<text transform="translate(37.2,466.9) scale(1,1.07)" font-family="Liberation Serif" font-size="15.6" stroke="#000" stroke-width="0.12" text-anchor="end" >10</text>
<text transform="translate(37.2,414.2) scale(1,1.07)" font-family="Liberation Serif" font-size="15.6" stroke="#000" stroke-width="0.12" text-anchor="end" >20</text>
<text transform="translate(37.2,361.5) scale(1,1.07)" font-family="Liberation Serif" font-size="15.6" stroke="#000" stroke-width="0.12" text-anchor="end" >30</text>
<text transform="translate(37.2,308.8) scale(1,1.07)" font-family="Liberation Serif" font-size="15.6" stroke="#000" stroke-width="0.12" text-anchor="end" >40</text>
<text transform="translate(327.6,517.1) scale(1,1.07)" font-family="Liberation Serif" font-size="15.6" stroke="#000" stroke-width="0.12" text-anchor="start" >0</text>
<text transform="translate(327.6,475.7) scale(1,1.07)" font-family="Liberation Serif" font-size="15.6" stroke="#000" stroke-width="0.12" text-anchor="start" >50</text>
<text transform="translate(327.6,434.3) scale(1,1.07)" font-family="Liberation Serif" font-size="15.6" stroke="#000" stroke-width="0.12" text-anchor="start" >100</text>
<text transform="translate(327.6,392.8) scale(1,1.07)" font-family="Liberation Serif" font-size="15.6" stroke="#000" stroke-width="0.12" text-anchor="start" >150</text>
<text transform="translate(327.6,351.4) scale(1,1.07)" font-family="Liberation Serif" font-size="15.6" stroke="#000" stroke-width="0.12" text-anchor="start" >200</text>
<text transform="translate(327.6,310.0) scale(1,1.07)" font-family="Liberation Serif" font-size="15.6" stroke="#000" stroke-width="0.12" text-anchor="start" >250</text>
<text transform="translate(62.9,536.0) scale(1,1.07)" font-family="Liberation Serif" font-size="15.6" stroke="#000" stroke-width="0.12" text-anchor="middle" >0</text>
<text transform="translate(300.9,536.0) scale(1,1.07)" font-family="Liberation Serif" font-size="15.6" stroke="#000" stroke-width="0.12" text-anchor="middle" >10</text>
<text transform="translate(182.6,544.0) scale(1,1.07)" font-family="Liberation Serif" font-size="15.6" stroke="#000" stroke-width="0.12" text-anchor="middle" >Time [ms]</text>
<text transform="translate(11.0,409.3) rotate(-90) scale(1,1.07)" font-family="Liberation Serif" font-size="15.6" stroke="#000" stroke-width="0.12" text-anchor="middle">Source-Drain Voltage [V]</text>
<text transform="translate(367.7,409.9) rotate(-90) scale(1,1.07)" font-family="Liberation Serif" font-size="15.6" stroke="#000" stroke-width="0.12" text-anchor="middle">Source-to-Drain Current [A]</text>
<text transform="translate(175.0,572.0) scale(1,1.07)" font-family="Liberation Sans" font-size="11.2" text-anchor="middle" >(c)</text>
<path d="M423.0,519.8 L423.0,516.8 M423.0,303.3 L423.0,306.3 M464.1,519.8 L464.1,516.8 M464.1,303.3 L464.1,306.3 M505.2,519.8 L505.2,516.8 M505.2,303.3 L505.2,306.3 M546.2,519.8 L546.2,516.8 M546.2,303.3 L546.2,306.3 M587.3,519.8 L587.3,516.8 M587.3,303.3 L587.3,306.3 M628.4,519.8 L628.4,516.8 M628.4,303.3 L628.4,306.3 M669.5,519.8 L669.5,516.8 M669.5,303.3 L669.5,306.3 M710.6,519.8 L710.6,516.8 M710.6,303.3 L710.6,306.3 M423.0,519.8 L426.5,519.8 M710.5,519.8 L707.0,519.8 M423.0,511.5 L428.0,511.5 M710.5,511.5 L705.5,511.5 M423.0,503.2 L426.5,503.2 M710.5,503.2 L707.0,503.2 M423.0,494.8 L426.5,494.8 M710.5,494.8 L707.0,494.8 M423.0,486.5 L426.5,486.5 M710.5,486.5 L707.0,486.5 M423.0,478.2 L426.5,478.2 M710.5,478.2 L707.0,478.2 M423.0,469.9 L428.0,469.9 M710.5,469.9 L705.5,469.9 M423.0,461.5 L426.5,461.5 M710.5,461.5 L707.0,461.5 M423.0,453.2 L426.5,453.2 M710.5,453.2 L707.0,453.2 M423.0,444.9 L426.5,444.9 M710.5,444.9 L707.0,444.9 M423.0,436.5 L426.5,436.5 M710.5,436.5 L707.0,436.5 M423.0,428.2 L428.0,428.2 M710.5,428.2 L705.5,428.2 M423.0,419.9 L426.5,419.9 M710.5,419.9 L707.0,419.9 M423.0,411.5 L426.5,411.5 M710.5,411.5 L707.0,411.5 M423.0,403.2 L426.5,403.2 M710.5,403.2 L707.0,403.2 M423.0,394.9 L426.5,394.9 M710.5,394.9 L707.0,394.9 M423.0,386.6 L428.0,386.6 M710.5,386.6 L705.5,386.6 M423.0,378.2 L426.5,378.2 M710.5,378.2 L707.0,378.2 M423.0,369.9 L426.5,369.9 M710.5,369.9 L707.0,369.9 M423.0,361.6 L426.5,361.6 M710.5,361.6 L707.0,361.6 M423.0,353.2 L426.5,353.2 M710.5,353.2 L707.0,353.2 M423.0,344.9 L428.0,344.9 M710.5,344.9 L705.5,344.9 M423.0,336.6 L426.5,336.6 M710.5,336.6 L707.0,336.6 M423.0,328.2 L426.5,328.2 M710.5,328.2 L707.0,328.2 M423.0,319.9 L426.5,319.9 M710.5,319.9 L707.0,319.9 M423.0,311.6 L426.5,311.6 M710.5,311.6 L707.0,311.6 M423.0,303.2 L428.0,303.2 M710.5,303.2 L705.5,303.2" stroke="#000" stroke-width="1.3" fill="none"/>
<path d="M423.5,509.6 L430,509.3 L445.3,506.6" stroke="#45bbf3" stroke-width="2.6" fill="none"/>
<path d="M423.5,512.6 L444,512.6" stroke="#f4a810" stroke-width="4.5" fill="none"/>
<path d="M447.3,511.2 L447.6,510.0 L449.1,509.8 L449.4,507.9 L450.7,506.9 L452.7,506.5 L454.2,505.4 L455.1,503.5 L456.8,502.5 L458.4,501.6 L459.5,500.0 L461.3,500.2 L462.5,499.2 L464.0,498.6 L465.2,497.2 L467.0,497.0 L468.7,496.7 L469.9,495.0 L471.6,494.5 L473.6,494.7 L474.8,492.9 L476.9,493.1 L478.2,491.8 L479.5,490.8 L481.1,490.3 L482.7,489.9 L483.9,488.8 L485.7,488.7 L486.6,486.9 L488.3,486.5 L489.8,486.0 L491.1,484.9 L492.7,484.4 L493.8,483.0 L495.8,483.4 L496.7,481.6 L498.2,481.0 L499.9,480.5 L501.5,479.7 L503.3,479.4 L504.2,477.4 L506.3,477.5 L507.8,476.7 L509.2,475.8 L510.4,474.5 L512.2,474.5 L513.4,473.5 L514.7,472.9 L515.7,472.0 L517.6,470.5 L519.3,469.5 L520.6,468.5 L522.4,468.3 L523.1,466.6 L524.4,465.3 L525.6,464.1 L527.6,463.7 L528.7,462.0 L530.0,460.5 L531.2,459.1 L532.6,458.2 L533.9,457.5 L534.5,456.6 L531.0,452.8 L530.2,453.4 L529.4,454.6 L528.5,456.2 L527.3,457.5 L525.5,458.4 L524.2,459.7 L523.2,461.4 L521.7,462.0 L520.4,463.2 L519.0,463.9 L518.0,465.0 L517.0,466.2 L515.1,466.6 L513.1,467.7 L511.9,468.2 L511.0,469.4 L509.3,469.3 L508.1,470.2 L506.9,471.5 L505.3,472.0 L503.6,472.5 L502.2,473.7 L500.4,474.0 L499.2,475.4 L497.8,476.5 L496.3,477.3 L494.6,477.6 L493.5,479.1 L491.8,479.4 L490.5,480.3 L489.3,481.5 L487.6,481.8 L486.1,482.5 L484.9,483.6 L483.2,483.9 L482.0,485.1 L480.7,486.0 L478.7,485.7 L477.3,486.5 L476.2,487.7 L474.5,488.2 L473.2,489.5 L471.3,489.4 L469.8,490.5 L468.3,491.4 L466.4,491.3 L464.9,492.4 L463.2,492.9 L461.9,494.2 L460.4,495.1 L459.0,496.0 L457.6,496.9 L456.0,498.0 L453.7,498.3 L452.6,500.3 L450.6,501.0 L449.6,502.9 L447.9,503.6 L446.5,504.6 L445.3,505.5 L444.4,506.3 L444.2,507.6 Z" fill="#45bbf3"/>
<path d="M447.9,511.7 L448.8,511.5 L449.7,510.6 L451.1,510.4 L452.2,509.3 L453.5,508.2 L455.1,507.6 L456.6,506.5 L458.5,506.1 L460.5,505.6 L462.0,504.3 L463.9,503.8 L465.4,502.3 L467.0,502.3 L468.2,501.2 L469.9,501.2 L471.3,500.4 L472.8,499.6 L474.6,499.5 L476.3,498.8 L477.9,498.1 L479.3,496.8 L481.3,497.1 L482.5,495.4 L484.5,495.8 L486.1,495.1 L487.6,494.2 L488.8,492.9 L490.2,492.1 L492.3,492.0 L494.0,491.0 L495.0,489.2 L497.1,489.0 L498.1,487.2 L499.7,486.4 L501.1,485.2 L503.1,485.1 L504.4,484.0 L505.4,482.6 L506.7,481.6 L508.1,481.0 L509.3,480.2 L510.5,478.5 L512.3,477.9 L513.6,476.9 L515.3,476.6 L516.4,475.6 L517.3,474.1 L518.5,473.1 L520.2,472.4 L521.7,471.3 L522.5,469.7 L524.3,469.1 L525.6,467.7 L527.4,466.8 L528.6,465.2 L529.6,463.5 L531.5,462.7 L532.3,460.9 L533.3,459.5 L534.2,458.4 L535.9,458.3 L536.3,457.3 L533.9,454.9 L533.3,455.7 L532.1,456.3 L530.7,457.0 L530.1,458.7 L528.8,460.0 L527.4,461.3 L526.1,462.6 L524.3,463.6 L523.1,465.1 L521.9,466.4 L520.5,467.4 L519.6,468.7 L518.2,469.8 L517.1,471.2 L515.7,471.9 L514.5,472.7 L512.8,473.0 L512.0,474.5 L510.1,474.7 L509.0,476.2 L507.2,477.2 L506.3,478.4 L505.0,479.3 L503.7,480.2 L502.4,481.2 L500.9,482.0 L499.7,483.3 L498.0,483.9 L496.5,484.8 L494.9,485.6 L493.7,487.1 L491.7,487.2 L490.3,488.4 L488.9,489.7 L487.4,490.0 L486.2,491.3 L484.7,491.9 L483.2,492.7 L481.6,493.2 L479.9,493.6 L478.0,493.6 L476.4,494.2 L475.0,495.4 L473.4,496.2 L471.6,496.3 L470.0,496.9 L468.6,498.0 L467.0,498.3 L465.6,499.1 L464.0,499.2 L462.1,499.9 L460.7,501.5 L458.8,502.3 L457.0,503.1 L455.1,503.5 L453.7,504.9 L452.1,505.7 L450.7,506.5 L449.0,506.4 L448.1,507.6 L447.3,508.5 L446.3,508.6 Z" fill="#18a070"/>
<path d="M447.6,511.8 L448.4,511.4 L449.6,511.5 L450.6,510.6 L452.1,510.4 L453.5,509.7 L454.7,508.2 L456.6,508.1 L458.4,507.6 L459.9,506.3 L461.9,506.2 L463.4,504.7 L465.4,504.5 L466.8,504.1 L468.1,503.3 L469.7,503.0 L471.2,502.3 L472.9,502.0 L474.2,500.7 L476.0,500.5 L477.9,500.5 L479.2,499.0 L480.9,498.4 L482.6,498.1 L484.2,497.4 L485.7,496.6 L487.5,496.5 L488.7,495.3 L490.0,494.4 L491.9,493.9 L493.6,493.1 L495.1,492.1 L496.5,491.1 L498.2,490.5 L499.6,489.4 L501.0,488.6 L502.4,487.6 L504.1,487.1 L505.4,486.1 L506.6,485.1 L508.1,484.5 L509.3,483.6 L510.5,482.1 L511.6,480.8 L512.9,479.8 L514.2,479.0 L515.8,478.4 L516.9,477.3 L518.3,476.5 L519.1,475.1 L520.2,474.0 L521.5,473.0 L522.7,471.8 L524.6,471.4 L525.7,469.9 L527.2,468.8 L527.9,466.8 L529.8,465.9 L531.2,464.6 L532.0,462.8 L533.3,461.6 L534.3,460.3 L535.4,459.5 L536.1,458.4 L537.5,458.5 L535.0,456.0 L534.0,456.4 L533.1,457.2 L532.0,458.2 L531.2,459.6 L530.0,460.9 L529.0,462.4 L527.9,464.0 L526.5,465.4 L524.6,466.2 L523.6,467.8 L522.2,468.9 L520.8,469.6 L520.1,471.3 L518.2,471.7 L517.1,472.8 L516.4,474.2 L514.9,474.8 L513.6,475.7 L512.3,476.5 L511.3,477.8 L509.9,478.4 L508.7,479.6 L507.6,481.2 L506.1,481.7 L504.8,482.6 L503.3,483.1 L502.3,484.5 L501.0,485.5 L499.4,486.1 L498.1,487.0 L496.9,488.4 L494.9,488.4 L493.5,489.4 L492.1,490.4 L490.6,491.4 L488.9,492.1 L487.7,493.1 L486.0,493.0 L484.5,493.6 L483.3,495.2 L481.5,495.3 L479.8,495.5 L478.4,496.7 L476.7,497.3 L475.2,498.2 L473.4,498.4 L471.6,498.4 L469.9,498.8 L468.6,500.1 L467.3,501.0 L465.5,500.8 L464.4,502.1 L462.3,502.0 L460.8,503.5 L459.1,504.3 L457.3,505.0 L455.3,505.0 L453.7,505.8 L452.3,506.7 L450.7,507.1 L449.4,507.8 L448.3,508.4 L447.3,508.8 L446.3,508.7 Z" fill="#1f5fe8"/>
<path d="M444.5,513.2 L446.8,512.3 L447.7,511.8 L448.9,511.6 L450.0,510.0 L451.9,510.7 L453.5,509.7 L455.3,509.5 L457.0,508.4 L458.6,507.2 L460.5,507.1 L462.2,506.6 L463.6,505.7 L465.3,506.2 L466.9,504.7 L468.6,504.1 L470.2,503.8 L471.9,503.8 L473.3,503.1 L474.8,502.8 L475.9,501.5 L477.4,501.1 L479.2,501.4 L480.7,500.9 L482.1,499.8 L483.6,499.4 L485.0,498.4 L486.6,497.8 L488.0,496.9 L490.2,497.7 L491.7,496.7 L493.0,495.3 L494.7,494.8 L496.3,494.0 L498.2,493.7 L499.6,492.4 L501.1,491.3 L503.0,490.6 L504.1,489.3 L505.1,488.0 L506.6,487.3 L507.7,486.0 L509.5,485.5 L510.6,484.2 L511.5,482.8 L512.9,481.9 L514.1,480.7 L514.6,478.8 L516.0,477.9 L518.0,477.7 L519.0,476.2 L519.8,474.4 L521.9,474.1 L522.8,472.4 L524.1,471.3 L525.4,470.3 L526.9,469.5 L528.0,468.4 L529.7,466.9 L530.4,465.1 L530.5,463.3 L532.2,462.3 L532.3,460.3 L533.6,458.6 L533.8,457.2 L534.6,455.9 L535.2,454.5 L536.5,453.3 L538.2,452.3 L538.2,450.3 L538.9,448.7 L540.1,447.4 L540.8,445.8 L541.8,444.5 L542.4,443.1 L544.0,442.5 L545.0,440.8 L546.0,439.2 L546.2,437.2 L547.6,436.1 L548.8,435.0 L549.2,433.3 L551.0,432.5 L551.1,430.6 L552.0,429.1 L552.7,427.3 L554.4,426.3 L555.8,425.1 L555.6,423.2 L556.8,422.2 L557.7,421.2 L559.2,419.1 L559.4,417.1 L561.0,416.4 L554.0,412.6 L553.4,413.7 L553.3,415.8 L551.6,417.7 L550.5,418.6 L550.8,420.4 L549.8,421.6 L548.8,423.0 L547.3,424.1 L546.5,425.6 L545.8,427.2 L545.1,428.6 L544.5,430.1 L543.1,431.0 L542.4,432.6 L541.2,433.9 L540.8,435.8 L539.3,437.1 L538.5,439.1 L538.1,440.5 L536.3,441.3 L536.3,443.2 L535.8,444.9 L534.7,446.3 L533.0,447.3 L533.2,449.5 L531.3,450.4 L531.4,452.3 L530.7,453.7 L529.4,454.7 L528.5,455.8 L528.5,458.3 L526.8,459.5 L526.4,461.1 L526.2,462.5 L524.9,463.4 L524.2,465.2 L522.8,465.7 L521.7,466.5 L521.1,468.1 L519.6,468.9 L518.5,470.2 L517.5,471.7 L516.0,472.6 L515.1,474.2 L512.9,474.4 L512.3,476.2 L510.6,476.8 L509.2,477.8 L508.5,479.4 L507.0,480.2 L506.5,482.1 L504.9,482.8 L503.2,483.1 L502.4,484.6 L501.1,485.3 L500.2,486.5 L498.6,487.4 L497.4,488.9 L495.3,488.6 L494.2,490.2 L492.4,490.2 L491.4,492.1 L489.8,492.6 L488.2,492.9 L486.9,494.0 L485.2,494.0 L483.5,494.1 L482.0,494.3 L480.5,494.9 L479.2,496.2 L477.5,496.4 L476.2,497.5 L474.3,496.9 L473.2,498.6 L471.9,499.3 L470.4,499.7 L468.7,499.4 L467.1,499.9 L465.7,501.4 L463.6,501.3 L462.4,502.1 L460.8,502.7 L459.0,502.8 L457.2,503.1 L455.8,504.9 L454.0,505.5 L451.8,504.8 L450.4,506.1 L448.7,506.2 L447.4,507.0 L445.7,506.7 L444.8,507.3 L442.7,509.0 Z" fill="#1f5fe8"/>
<path d="M445.2,515.0 L447.3,513.5 L448.0,512.5 L449.2,512.4 L450.7,512.3 L452.1,511.1 L454.0,511.2 L455.8,510.8 L457.2,509.1 L459.0,508.5 L461.0,508.5 L462.8,508.5 L464.3,507.9 L465.6,507.1 L467.7,507.2 L468.9,505.2 L471.1,506.2 L472.2,504.6 L473.9,504.9 L475.3,504.2 L476.3,502.6 L478.2,503.3 L479.3,501.5 L481.3,502.5 L482.7,501.6 L484.3,501.0 L485.7,499.8 L487.1,498.9 L488.8,498.4 L490.8,498.7 L492.5,498.2 L493.8,496.9 L495.7,496.6 L497.4,495.9 L499.0,494.9 L500.6,493.9 L502.0,492.6 L503.8,491.8 L504.3,489.7 L505.9,489.1 L506.8,487.6 L508.1,486.6 L510.3,486.5 L510.7,484.5 L512.1,483.5 L513.2,482.2 L514.9,481.7 L515.6,480.0 L517.8,479.9 L518.2,477.8 L519.8,476.9 L521.0,475.6 L523.3,475.6 L523.5,473.1 L525.0,472.1 L526.8,471.6 L527.8,470.3 L529.1,469.3 L531.0,467.9 L531.9,466.2 L532.8,464.7 L532.3,462.6 L534.4,461.7 L535.6,459.8 L536.3,458.7 L536.7,457.3 L536.9,455.6 L537.8,454.2 L538.8,452.8 L540.1,451.5 L541.1,450.1 L542.4,448.8 L542.2,446.7 L543.2,445.4 L543.8,444.0 L545.6,443.4 L546.4,441.6 L547.6,440.2 L548.1,438.5 L549.5,437.4 L550.2,435.8 L551.0,434.4 L551.4,432.7 L553.1,431.9 L554.5,430.6 L555.5,429.0 L556.5,427.6 L556.2,425.4 L558.1,424.7 L557.9,422.9 L559.7,422.4 L560.2,419.7 L561.5,418.3 L562.3,417.2 L555.1,413.2 L553.8,413.9 L553.0,415.7 L552.5,418.3 L551.1,418.9 L551.5,420.8 L550.3,422.0 L549.8,423.6 L548.0,424.5 L547.6,426.3 L546.5,427.6 L545.7,428.9 L544.2,429.8 L544.2,431.7 L543.4,433.2 L542.8,434.8 L540.7,435.7 L539.7,437.3 L539.3,439.5 L537.7,440.3 L538.3,442.5 L537.1,443.7 L535.5,444.8 L534.5,446.3 L533.5,447.7 L532.6,449.2 L533.2,451.5 L532.0,452.8 L531.4,454.3 L530.4,455.4 L530.1,456.8 L528.7,458.6 L527.5,460.1 L526.8,461.5 L525.9,462.5 L525.4,463.9 L524.4,465.4 L523.9,466.7 L522.8,467.6 L521.5,468.4 L521.1,470.4 L519.0,470.6 L517.9,472.0 L516.3,472.9 L515.5,474.6 L513.6,475.1 L512.4,476.3 L511.6,478.0 L509.6,478.2 L509.0,480.1 L507.5,480.9 L506.5,482.3 L504.9,482.8 L503.8,484.0 L503.0,485.4 L501.6,486.1 L500.9,487.7 L498.9,487.9 L497.5,489.0 L496.0,489.8 L495.0,491.5 L492.8,490.9 L491.9,492.9 L490.3,493.5 L488.8,494.1 L486.8,493.5 L485.4,494.4 L484.3,495.9 L482.4,495.1 L480.8,495.6 L479.7,497.3 L478.1,497.8 L476.6,498.6 L474.5,497.6 L473.6,499.7 L471.9,499.2 L470.3,499.4 L469.2,500.9 L467.6,501.5 L465.7,501.4 L464.2,502.9 L462.5,502.4 L461.2,503.7 L459.3,503.5 L457.7,504.4 L455.7,504.6 L454.1,505.6 L452.2,505.9 L450.6,506.8 L449.2,507.8 L447.8,508.4 L446.0,507.5 L445.4,509.0 L442.9,509.6 Z" fill="#f54a10"/>
<path d="M449.9,509.7 L450.3,509.9 L450.1,508.8 L451.7,506.5 L451.9,506.1 L453.1,505.1 L453.8,504.2 L454.8,503.3 L456.2,501.5 L456.9,500.1 L458.9,498.8 L459.3,497.8 L461.0,496.8 L461.7,494.8 L462.9,494.0 L464.4,492.6 L466.1,491.6 L467.4,490.6 L468.1,489.3 L469.6,487.1 L471.4,486.0 L471.7,485.0 L473.1,484.5 L474.8,483.0 L475.4,482.5 L477.4,480.7 L478.2,479.2 L478.9,478.8 L480.8,477.7 L482.1,476.9 L482.7,475.0 L484.8,474.3 L485.5,473.2 L487.0,471.6 L488.6,470.7 L490.3,469.0 L491.7,468.5 L492.9,467.3 L494.7,465.4 L495.7,464.9 L497.2,463.8 L498.0,463.0 L499.9,461.1 L500.9,460.7 L502.0,459.0 L504.0,458.4 L504.6,457.2 L506.2,456.0 L508.2,454.2 L508.8,453.4 L510.1,452.3 L511.4,451.7 L513.2,450.3 L514.8,450.1 L516.3,448.5 L517.9,447.5 L518.8,446.6 L520.0,445.8 L521.8,444.2 L524.1,443.4 L525.3,442.2 L526.4,441.2 L527.9,439.8 L529.0,438.9 L529.8,438.4 L531.5,437.4 L533.1,436.2 L533.7,434.7 L535.4,434.4 L536.4,432.9 L537.5,432.1 L539.6,431.0 L540.6,430.4 L542.4,430.3 L543.0,428.6 L545.0,428.8 L546.1,427.1 L548.1,426.2 L549.7,425.4 L551.4,423.7 L553.0,422.5 L554.8,421.6 L557.0,420.0 L558.6,419.1 L559.9,417.4 L561.1,416.8 L563.0,414.7 L564.2,414.1 L565.8,413.0 L566.7,412.3" stroke="#45bbf3" stroke-width="1.8" fill="none"/>
<path d="M449.5,509.3 L449.2,509.4 L449.7,508.9 L451.2,506.3 L451.0,506.1 L452.2,504.7 L452.8,504.0 L453.8,502.8 L455.1,501.1 L456.5,500.0 L458.1,498.1 L459.3,496.9 L460.1,496.0 L461.7,494.7 L463.0,493.1 L463.7,492.3 L464.9,490.5 L466.2,489.8 L468.1,488.5 L469.6,487.3 L470.2,485.6 L471.8,484.2 L472.9,483.1 L473.4,482.5 L474.5,482.0 L476.9,479.9 L477.3,478.6 L478.6,478.1 L480.0,477.0 L481.3,476.1 L482.1,474.4 L483.7,473.6 L485.1,472.6 L486.5,471.0 L488.2,470.2 L489.9,468.7 L490.9,468.2 L492.9,466.6 L493.5,465.2 L495.3,463.9 L496.0,463.5 L498.2,461.5 L499.1,460.9 L500.3,459.2 L502.0,458.8 L503.0,457.0 L504.3,455.9 L506.3,454.7 L507.2,454.2 L508.2,452.7 L509.4,451.8 L511.3,451.5 L512.5,449.8 L514.6,448.9 L515.6,447.6 L517.0,447.4 L518.3,445.7 L520.2,445.4 L522.1,443.7 L523.6,442.6 L524.3,441.4 L525.9,440.6 L526.6,439.1 L528.7,438.0 L529.9,437.3 L530.6,436.2 L532.2,435.9 L533.2,434.8 L534.7,433.2 L536.5,432.5 L537.3,431.7 L539.3,431.2 L540.5,429.5 L542.1,429.2 L543.5,428.8 L544.0,428.0 L546.4,426.3 L547.6,425.6 L549.3,424.6 L550.8,423.2 L553.4,422.1 L554.8,421.3 L556.5,419.3 L558.2,418.6 L560.0,417.1 L561.1,416.1 L562.2,414.7 L563.9,413.6 L565.1,412.2 L566.3,411.7" stroke="#18a070" stroke-width="1.6" fill="none"/>
<path d="M448.3,509.9 L448.8,509.8 L448.4,508.7 L450.5,506.3 L450.9,505.0 L452.0,504.7 L452.4,503.2 L453.9,502.5 L455.2,500.5 L455.8,499.2 L456.8,497.8 L457.9,497.0 L459.4,494.8 L460.4,494.3 L461.7,492.8 L463.2,491.9 L465.1,490.0 L466.1,489.4 L467.2,488.2 L468.8,486.2 L470.3,485.3 L470.6,484.1 L472.6,482.9 L473.3,481.8 L474.7,481.2 L475.7,479.2 L476.9,478.9 L478.3,477.0 L480.1,475.6 L480.8,475.1 L482.2,474.1 L482.9,473.1 L485.2,472.2 L486.1,470.3 L488.0,469.8 L488.8,468.7 L491.0,467.1 L491.8,466.1 L493.9,464.3 L494.4,463.3 L496.2,462.0 L497.3,461.3 L498.8,459.7 L500.5,459.6 L501.3,458.3 L502.2,457.3 L503.9,456.0 L505.8,454.4 L507.4,453.0 L507.5,452.4 L509.9,452.0 L511.4,450.5 L512.8,449.5 L513.4,448.5 L515.7,447.2 L516.9,446.0 L517.9,445.2 L519.5,444.3 L520.7,442.5 L522.4,442.1 L524.3,440.5 L524.9,439.8 L526.1,438.9 L528.2,437.4 L529.2,437.1 L530.7,436.1 L532.0,434.5 L533.5,434.3 L533.9,433.4 L535.7,431.5 L536.6,431.4 L538.8,429.7 L539.9,429.4 L542.0,428.2 L543.0,427.3 L543.4,426.6 L545.6,426.0 L547.1,424.6 L548.6,423.6 L550.4,422.6 L552.5,421.2 L554.2,420.2 L556.3,419.0 L557.8,417.6 L558.7,416.3 L559.9,414.8 L561.4,414.2 L564.1,412.5 L564.8,411.5 L565.8,411.0" stroke="#1f5fe8" stroke-width="1.8" fill="none"/>
<path d="M448.6,510.5 L448.3,510.0 L449.3,509.1 L450.5,506.8 L450.8,505.8 L451.7,504.9 L453.6,504.4 L454.8,503.3 L455.4,501.4 L456.8,500.2 L458.2,499.0 L459.6,497.7 L459.8,495.3 L461.0,494.0 L462.0,492.7 L463.9,492.0 L464.7,490.2 L466.3,489.2 L468.2,488.5 L469.1,486.8 L470.8,486.1 L471.1,483.8 L472.7,483.3 L474.1,482.7 L475.3,482.0 L476.1,479.4 L477.1,478.4 L478.6,478.0 L479.7,476.2 L481.2,475.7 L482.2,474.3 L483.5,473.1 L485.4,472.5 L487.1,471.5 L488.2,469.9 L489.5,468.7 L491.3,468.3 L492.6,466.7 L493.4,464.9 L495.5,464.5 L496.9,463.6 L497.9,462.1 L498.9,460.6 L499.9,459.1 L501.6,458.5 L502.8,457.2 L504.6,456.6 L505.4,454.6 L507.2,453.7 L509.1,453.6 L510.0,452.1 L511.2,450.8 L512.6,449.6 L514.0,448.4 L515.6,447.5 L517.4,446.9 L518.9,446.1 L520.4,445.5 L521.6,443.7 L523.2,442.7 L524.4,441.6 L526.1,441.1 L527.3,440.1 L527.5,437.7 L529.1,437.0 L530.4,435.8 L532.3,435.6 L533.9,435.0 L535.0,433.7 L535.7,431.8 L537.5,431.5 L538.8,430.4 L540.0,429.1 L542.2,429.6 L543.4,428.7 L544.0,427.0 L546.5,426.9 L548.2,426.2 L549.8,425.2 L551.0,423.2 L552.7,422.0 L554.0,420.3 L556.7,420.3 L557.9,418.6 L559.0,416.3 L561.0,415.9 L562.9,415.2 L564.1,413.4 L565.1,411.6 L566.5,411.4 L563.4,407.4 L562.0,407.7 L560.6,408.9 L558.6,409.7 L557.0,411.0 L556.3,413.0 L554.6,414.6 L553.3,416.1 L550.9,416.3 L549.5,417.7 L547.7,418.5 L546.6,420.2 L545.4,421.4 L544.0,422.5 L542.0,423.5 L540.9,424.5 L539.0,424.4 L537.8,425.5 L536.2,426.2 L534.3,426.6 L533.7,428.9 L531.7,428.9 L530.0,429.5 L528.9,430.9 L527.3,431.7 L526.3,433.2 L524.8,434.2 L524.0,436.0 L522.6,436.7 L521.3,437.7 L519.9,438.6 L518.0,439.0 L516.6,440.5 L515.7,441.8 L513.8,441.9 L512.7,443.4 L511.7,445.2 L510.3,446.4 L508.3,446.7 L506.4,447.1 L505.9,449.3 L503.7,449.1 L502.1,450.5 L500.9,452.1 L499.5,453.3 L498.6,454.8 L497.0,455.7 L496.0,457.2 L494.2,457.8 L493.4,459.5 L491.1,459.5 L490.4,461.3 L488.7,462.1 L487.1,463.3 L486.7,465.3 L484.5,465.4 L483.3,466.9 L481.4,467.7 L480.1,469.0 L478.7,470.1 L477.5,471.3 L476.2,472.1 L475.3,474.3 L474.5,475.4 L472.6,475.6 L471.6,478.1 L470.5,478.8 L469.0,479.3 L468.1,480.7 L466.3,481.3 L466.0,483.6 L464.8,485.0 L463.1,486.0 L461.3,486.8 L459.8,488.0 L458.2,489.1 L457.4,490.7 L456.1,491.9 L455.2,493.7 L454.0,495.2 L452.7,496.5 L450.9,497.5 L450.3,499.3 L448.4,500.0 L448.2,501.9 L446.8,502.8 L445.9,503.8 L445.2,506.8 L443.7,507.7 L443.3,508.9 Z" fill="#f54a10"/>
<path d="M550.5,427.7 L552.2,427.9 L554.1,427.8 L555.2,426.3 L556.5,424.9 L558.6,424.4 L559.9,423.2 L562.3,422.8 L562.7,420.4 L564.1,418.9 L566.4,418.1 L568.1,416.9 L569.0,414.9 L569.1,412.6 L569.9,411.0 L571.9,410.2 L572.8,408.7 L573.8,406.9 L575.2,405.4 L574.4,402.8 L576.5,402.0 L577.2,400.7 L578.4,399.7 L578.1,397.4 L580.1,396.5 L580.0,394.4 L582.5,393.3 L582.6,390.9 L584.4,389.4 L584.9,387.3 L585.9,385.4 L586.5,383.5 L587.0,381.8 L587.3,380.1 L588.4,378.6 L588.8,376.7 L590.2,374.9 L590.8,372.5 L590.9,370.2 L591.2,368.0 L592.2,366.0 L591.9,364.2 L592.7,363.1 L580.4,362.0 L580.6,363.1 L579.3,364.6 L579.1,366.3 L579.2,367.9 L578.7,369.0 L578.5,370.4 L578.3,372.0 L576.9,373.3 L576.4,375.3 L575.5,377.0 L575.3,379.0 L573.3,380.1 L572.6,381.6 L572.0,383.3 L571.1,384.8 L570.1,386.3 L570.3,388.5 L570.1,390.1 L568.6,391.0 L567.1,392.0 L567.0,394.1 L564.8,394.9 L565.1,397.5 L563.5,399.0 L562.9,400.9 L561.8,402.4 L561.1,403.8 L559.9,404.8 L559.5,406.4 L558.0,407.0 L558.3,409.1 L556.5,409.6 L555.2,410.7 L554.3,412.2 L553.0,413.6 L551.2,414.5 L550.5,416.3 L549.8,418.1 L549.0,420.1 L548.7,422.2 L546.8,422.4 L547.6,424.8 Z" fill="#1f5fe8"/>
<path d="M550.9,428.2 L551.1,426.8 L553.6,427.2 L554.9,426.1 L556.1,424.6 L558.2,423.9 L560.6,423.8 L562.3,422.8 L563.5,421.1 L564.4,419.2 L564.8,416.8 L567.6,416.4 L568.7,414.7 L570.3,413.4 L570.0,411.1 L571.4,409.9 L572.7,408.6 L572.8,406.3 L573.1,404.3 L575.3,403.4 L576.7,402.1 L576.4,400.2 L576.4,398.3 L577.5,397.0 L579.2,396.0 L579.9,394.3 L581.5,392.7 L581.7,390.4 L583.4,388.9 L585.1,387.3 L586.0,385.5 L585.5,383.2 L586.7,381.7 L586.2,379.6 L587.6,378.3 L589.1,376.8 L589.3,374.5 L591.3,372.6 L590.8,370.2 L590.9,367.9 L590.5,365.8 L591.7,364.2 L591.1,363.0 L581.5,362.1 L580.8,363.1 L580.0,364.6 L580.3,366.5 L578.7,367.8 L579.9,369.3 L579.4,370.7 L578.2,371.9 L578.3,374.0 L575.6,374.9 L576.4,377.4 L575.0,378.9 L574.9,380.8 L574.5,382.5 L573.4,383.9 L572.3,385.4 L570.4,386.5 L570.1,388.4 L569.7,389.9 L569.1,391.3 L568.7,393.1 L567.4,394.4 L566.7,396.0 L564.9,397.5 L564.4,399.4 L562.3,400.5 L561.9,402.5 L560.7,403.5 L561.0,405.5 L560.6,407.0 L558.9,407.7 L558.4,409.2 L556.5,409.6 L556.1,411.5 L555.0,413.0 L553.7,414.3 L552.8,416.1 L551.5,417.2 L550.6,419.0 L549.9,421.0 L548.2,421.7 L547.9,423.6 L547.5,424.7 Z" fill="#f54a10"/>
<path d="M579.5,359.5 L592,358.5 L591.5,366 L580,367 Z" fill="#f54a10"/>
<path d="M445.0,508.2 L445.3,507.5 L445.6,505.8 L446.7,504.5 L447.8,503.3 L448.5,502.1 L449.2,500.6 L450.8,499.8 L451.6,498.4 L452.7,497.0 L454.0,495.5 L455.4,494.1 L456.5,492.6 L458.2,491.0 L459.1,490.3 L460.6,488.9 L462.1,487.6 L462.9,486.1 L464.8,484.9 L466.1,483.5 L467.1,482.8 L468.7,481.3 L469.2,480.2 L470.2,479.5 L472.1,478.4 L473.1,476.9 L474.1,475.8 L475.5,474.1 L477.5,473.1 L478.5,472.4 L479.5,471.5 L480.6,470.4 L482.1,468.3 L483.6,467.2 L484.8,466.5 L486.2,464.9 L487.7,464.0 L489.8,463.3 L491.2,462.2 L492.1,460.9 L493.2,459.9 L495.0,458.6 L495.8,456.8 L497.9,456.1 L498.9,455.3 L499.7,454.0 L501.4,453.0 L502.9,451.2 L505.0,450.0 L506.0,449.6 L506.9,448.5 L508.5,447.0 L509.8,446.7 L511.5,445.2 L513.1,443.7 L514.8,443.3 L516.3,442.0 L516.9,441.1 L519.0,440.1 L520.1,438.9 L521.2,438.2 L522.8,436.7 L524.3,435.4 L525.6,434.6 L527.0,433.3 L527.9,432.8 L529.5,431.5 L530.9,430.4 L532.2,429.2 L533.9,428.5 L535.3,427.9 L536.6,427.0 L537.6,426.2 L539.1,425.5 L541.0,424.5 L542.2,423.5 L543.9,423.0 L545.0,421.3 L546.8,420.8 L548.2,419.4 L550.5,418.3 L551.4,416.9 L553.4,415.6 L554.8,414.7 L556.5,413.2 L558.3,411.6 L560.0,410.6 L560.7,409.9 L562.6,408.5 L563.3,408.0" stroke="#f4a810" stroke-width="1.7" stroke-dasharray="1.6,1.6" fill="none"/>
<path d="M446.2,511.6 L447.6,512.0 L449.2,511.4 L450.0,511.9 L451.3,511.5 L454.1,511.0 L456.0,509.1 L457.6,509.1 L458.3,509.2 L460.9,508.2 L462.4,506.4 L464.5,506.0 L464.9,506.3 L466.6,505.4 L469.2,504.2 L470.7,503.6 L471.9,504.1 L473.7,502.5 L474.2,503.6 L476.0,502.1 L477.5,502.1 L479.7,501.5 L480.6,500.8 L482.3,499.7 L484.7,500.6 L485.9,500.1 L487.0,499.3 L488.1,498.5 L490.6,498.2 L492.4,497.3 L492.9,496.4 L494.9,494.8 L496.3,494.9 L498.7,494.1 L500.0,491.9 L500.6,491.6 L502.3,490.1 L503.4,488.9 L505.8,488.0 L507.3,487.2 L508.6,486.0 L508.8,485.1 L509.6,484.1 L511.5,482.2 L513.6,481.7 L513.3,481.6 L514.9,479.3 L515.8,477.9 L518.3,477.7 L519.3,475.9 L520.3,476.1 L521.8,474.9 L524.0,472.2 L525.2,470.9 L526.2,471.2 L527.3,469.6 L528.5,467.7 L529.4,466.3 L530.1,464.6 L531.4,463.9 L532.2,462.5 L532.7,461.4 L534.2,458.8 L534.0,458.3 L534.8,455.6 L535.5,455.3 L537.4,453.8 L537.7,452.8 L538.8,450.4 L539.1,449.4 L539.7,446.7 L541.1,446.5 L541.3,444.9 L543.2,442.5 L542.6,442.0 L544.0,441.1 L546.3,438.6 L546.9,437.5 L546.7,436.7 L547.7,433.7 L549.1,432.3 L550.1,431.7 L551.8,430.4 L552.6,429.5 L553.0,427.0 L553.4,425.9 L554.4,424.8 L555.4,422.8 L556.3,422.8 L556.3,420.4 L557.2,417.8 L558.2,416.7 L560.2,416.1" stroke="#f4a810" stroke-width="1.4" stroke-dasharray="1.4,2.4" fill="none"/>
<path d="M553.1,421.8 L553.5,421.6 L554.0,420.6 L555.0,419.5 L555.8,418.6 L556.9,417.3 L557.6,416.0 L558.2,414.9 L559.0,414.1 L559.8,413.2 L560.4,412.1 L561.7,410.7 L561.9,410.2 L562.7,409.3 L563.3,407.9 L564.4,406.9 L565.0,406.3 L565.1,405.0 L566.3,403.7 L566.9,403.2 L567.5,402.1 L567.8,401.3 L568.4,400.2 L569.6,398.9 L570.2,397.9 L570.9,396.7 L571.7,395.9 L572.2,395.0 L572.9,393.7 L573.4,392.4 L574.0,391.4 L574.9,390.7 L575.2,389.8 L576.2,388.6 L576.1,387.3 L577.2,386.1 L577.2,385.1 L578.0,383.6 L578.8,382.2 L578.7,381.4 L579.4,379.5 L579.8,378.9 L580.7,377.1 L580.8,376.3 L581.6,374.8 L581.7,373.4 L582.8,371.9 L582.9,370.7 L583.8,369.5 L584.3,368.7 L584.7,366.9 L585.1,366.0 L585.5,364.5 L586.0,363.6 L586.3,362.4 L587.0,360.6 L587.4,359.5 L588.2,358.3 L588.8,357.1 L589.0,356.3 L589.4,354.3 L589.9,353.2 L590.3,352.0 L590.7,351.3 L591.5,350.2 L592.1,349.2 L593.0,347.6 L593.9,346.5 L594.7,346.0 L595.7,345.3 L596.6,346.0 L598.2,347.3 L598.3,347.5 L598.9,348.6 L600.2,349.7 L601.8,351.2 L602.3,352.1 L603.0,352.6 L603.7,353.2 L604.7,354.1 L605.1,354.9 L606.2,355.7 L607.3,356.6 L608.1,357.6 L609.1,358.9 L609.9,359.1 L611.3,360.2 L612.1,361.2 L613.0,361.7 L613.7,362.9 L615.4,363.2 L616.1,364.0 L617.0,365.1 L618.7,365.3 L619.4,366.3 L621.0,366.8 L621.8,367.2 L623.1,368.3 L624.2,368.3 L625.0,369.4 L626.0,369.5 L626.4,369.7 L628.5,370.5 L630.2,371.4 L631.3,371.9 L632.3,372.2 L631.5,373.1 L631.4,373.3 L631.1,374.2 L629.8,374.4 L629.1,375.3 L628.1,375.9 L627.3,376.4 L626.0,377.2 L624.8,378.5 L623.0,379.1 L621.5,379.9 L620.4,381.1 L619.4,381.2 L618.4,382.2 L617.6,382.6 L617.1,383.7 L616.1,383.9 L615.2,384.6 L614.4,385.2 L613.0,386.2 L612.5,386.7 L611.0,387.4 L610.0,388.3 L609.1,389.4 L608.0,389.9 L607.0,390.9 L606.3,391.5 L605.3,392.1 L604.3,393.1 L603.1,393.7 L601.8,394.3 L601.2,395.2 L600.1,396.0 L599.0,396.6 L597.7,397.4 L597.0,398.3 L595.5,399.2 L594.8,399.5 L593.6,400.4 L592.9,401.4 L591.5,402.0 L590.5,402.8 L589.5,403.9 L588.7,404.6 L587.8,405.4 L586.2,405.7 L585.3,406.6 L584.5,407.7 L583.6,408.2 L582.5,409.3 L581.9,409.6 L580.5,410.7 L579.8,411.3 L578.6,412.1 L577.8,413.1 L576.8,413.4 L575.8,414.7 L575.4,415.4 L574.3,415.9 L573.2,416.6 L572.8,417.3 L571.8,418.3 L570.6,419.2 L570.3,419.9 L569.0,421.0 L568.5,421.8 L567.3,422.9 L566.3,423.4 L565.7,424.4 L565.0,425.3 L564.4,426.5 L563.5,426.9 L562.9,427.8 L561.8,428.9 L561.2,430.3 L560.0,431.0 L559.8,432.3 L558.4,433.3 L558.1,434.1 L556.9,435.2 L556.2,435.8 L555.4,436.9 L554.6,437.8 L554.2,438.7 L553.3,439.7 L552.4,440.1 L551.9,441.5 L550.7,442.5 L549.4,443.4 L548.3,443.7 L547.0,444.5 L546.4,445.3 L545.1,446.1 L543.9,446.9 L543.5,447.5 L542.7,447.8 L541.4,448.7 L540.3,449.4 L538.7,450.2 L537.8,451.2 L536.8,451.9 L535.5,452.6 L535.2,453.3" stroke="#f4a810" stroke-width="1.9" stroke-dasharray="1.5,1.3" fill="none"/>
<circle cx="595.3" cy="346.6" r="3" fill="#f4a810"/>
<ellipse cx="630.1" cy="372" rx="12.5" ry="9.4" fill="none" stroke="#000" stroke-width="2" stroke-dasharray="5,3"/>
<path d="M590.5,337.1 A38,38 0 1,1 640.2,393.5" stroke="#000" stroke-width="2.2" fill="none"/>
<path d="M632,400.8 L636.1,390.1 L639.8,394.2 L642.9,397.9 Z" fill="#000"/>
<path d="M457.3,469.0 L500.6,432.3" stroke="#000" stroke-width="2.4" fill="none"/>
<path d="M506.7,427.1 L502.6,437.8 L500.2,432.6 L495.5,429.4 Z" fill="#000"/>
<path d="M557.3,462.6 L521.1,496.2" stroke="#000" stroke-width="2.4" fill="none"/>
<path d="M515.2,501.6 L518.8,490.8 L521.4,495.8 L526.3,498.8 Z" fill="#000"/>
<text transform="translate(646.5,421.0) scale(1,1.0)" font-family="Liberation Serif" font-size="15.7" font-weight="bold" text-anchor="middle" >Failure at 200 A</text>
<rect x="423.0" y="303.3" width="67.3" height="24.6" fill="#fff" stroke="#000" stroke-width="1.35"/>
<text transform="translate(456.6,320.8) scale(1,1.0)" font-family="Liberation Serif" font-size="15.7" font-weight="bold" text-anchor="middle" >Device B</text>
<rect x="423.0" y="303.3" width="287.5" height="216.5" fill="none" stroke="#000" stroke-width="1.5"/>
<text transform="translate(420.8,516.9) scale(1,1.07)" font-family="Liberation Serif" font-size="15.6" stroke="#000" stroke-width="0.12" text-anchor="end" >0</text>
<text transform="translate(420.8,475.2) scale(1,1.07)" font-family="Liberation Serif" font-size="15.6" stroke="#000" stroke-width="0.12" text-anchor="end" >50</text>
<text transform="translate(420.8,433.6) scale(1,1.07)" font-family="Liberation Serif" font-size="15.6" stroke="#000" stroke-width="0.12" text-anchor="end" >100</text>
<text transform="translate(420.8,391.9) scale(1,1.07)" font-family="Liberation Serif" font-size="15.6" stroke="#000" stroke-width="0.12" text-anchor="end" >150</text>
<text transform="translate(420.8,350.3) scale(1,1.07)" font-family="Liberation Serif" font-size="15.6" stroke="#000" stroke-width="0.12" text-anchor="end" >200</text>
<text transform="translate(420.8,308.6) scale(1,1.07)" font-family="Liberation Serif" font-size="15.6" stroke="#000" stroke-width="0.12" text-anchor="end" >250</text>
<text transform="translate(423.0,537.2) scale(1,1.07)" font-family="Liberation Serif" font-size="15.6" stroke="#000" stroke-width="0.12" text-anchor="middle" >0</text>
<text transform="translate(464.1,537.2) scale(1,1.07)" font-family="Liberation Serif" font-size="15.6" stroke="#000" stroke-width="0.12" text-anchor="middle" >2</text>
<text transform="translate(505.2,537.2) scale(1,1.07)" font-family="Liberation Serif" font-size="15.6" stroke="#000" stroke-width="0.12" text-anchor="middle" >4</text>
<text transform="translate(546.2,537.2) scale(1,1.07)" font-family="Liberation Serif" font-size="15.6" stroke="#000" stroke-width="0.12" text-anchor="middle" >6</text>
<text transform="translate(587.3,537.2) scale(1,1.07)" font-family="Liberation Serif" font-size="15.6" stroke="#000" stroke-width="0.12" text-anchor="middle" >8</text>
<text transform="translate(628.4,537.2) scale(1,1.07)" font-family="Liberation Serif" font-size="15.6" stroke="#000" stroke-width="0.12" text-anchor="middle" >10</text>
<text transform="translate(669.5,537.2) scale(1,1.07)" font-family="Liberation Serif" font-size="15.6" stroke="#000" stroke-width="0.12" text-anchor="middle" >12</text>
<text transform="translate(710.6,537.2) scale(1,1.07)" font-family="Liberation Serif" font-size="15.6" stroke="#000" stroke-width="0.12" text-anchor="middle" >14</text>
<text transform="translate(568.8,553.2) scale(1,1.07)" font-family="Liberation Serif" font-size="15.6" stroke="#000" stroke-width="0.12" text-anchor="middle" >Source-Drain Voltage [V]</text>
<text transform="translate(390.6,410.7) rotate(-90) scale(1,1.07)" font-family="Liberation Serif" font-size="15.6" stroke="#000" stroke-width="0.12" text-anchor="middle">Source-to-Drain Current [A]</text>
<text transform="translate(561.0,572.8) scale(1,1.07)" font-family="Liberation Sans" font-size="11.2" text-anchor="middle" >(d)</text>
</svg></body></html>
